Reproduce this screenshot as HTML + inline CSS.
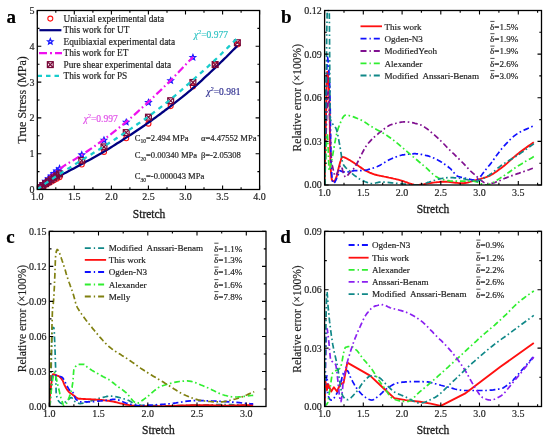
<!DOCTYPE html>
<html><head><meta charset="utf-8"><style>
html,body{margin:0;padding:0;background:#fff;}
svg{display:block;will-change:transform;}
text{font-family:"Liberation Serif", serif; white-space:pre;}
</style></head><body>
<svg width="550" height="440" viewBox="0 0 550 440">
<defs><clipPath id="clipa"><rect x="37.3" y="9.5" width="222.3" height="180.0"/></clipPath><clipPath id="clipb"><rect x="324.6" y="9.5" width="216.9" height="175.5"/></clipPath><clipPath id="clipc"><rect x="49.3" y="230.4" width="216.7" height="176.1"/></clipPath><clipPath id="clipd"><rect x="324.6" y="230.4" width="216.9" height="176.1"/></clipPath></defs>
<rect width="550" height="440" fill="#fff"/>
<g clip-path="url(#clipa)">
<circle cx="37.30" cy="189.50" r="2.5" fill="none" stroke="#ff1010" stroke-width="1.1"/>
<circle cx="40.08" cy="187.96" r="2.5" fill="none" stroke="#ff1010" stroke-width="1.1"/>
<circle cx="42.86" cy="186.41" r="2.5" fill="none" stroke="#ff1010" stroke-width="1.1"/>
<circle cx="45.64" cy="184.87" r="2.5" fill="none" stroke="#ff1010" stroke-width="1.1"/>
<circle cx="48.41" cy="183.32" r="2.5" fill="none" stroke="#ff1010" stroke-width="1.1"/>
<circle cx="51.19" cy="181.78" r="2.5" fill="none" stroke="#ff1010" stroke-width="1.1"/>
<circle cx="53.97" cy="180.24" r="2.5" fill="none" stroke="#ff1010" stroke-width="1.1"/>
<circle cx="56.75" cy="178.69" r="2.5" fill="none" stroke="#ff1010" stroke-width="1.1"/>
<circle cx="59.53" cy="177.15" r="2.5" fill="none" stroke="#ff1010" stroke-width="1.1"/>
<circle cx="81.76" cy="164.44" r="2.5" fill="none" stroke="#ff1010" stroke-width="1.1"/>
<circle cx="103.99" cy="151.91" r="2.5" fill="none" stroke="#ff1010" stroke-width="1.1"/>
<circle cx="126.22" cy="138.31" r="2.5" fill="none" stroke="#ff1010" stroke-width="1.1"/>
<circle cx="148.45" cy="123.63" r="2.5" fill="none" stroke="#ff1010" stroke-width="1.1"/>
<circle cx="170.68" cy="106.09" r="2.5" fill="none" stroke="#ff1010" stroke-width="1.1"/>
<circle cx="192.91" cy="86.40" r="2.5" fill="none" stroke="#ff1010" stroke-width="1.1"/>
<circle cx="215.14" cy="64.56" r="2.5" fill="none" stroke="#ff1010" stroke-width="1.1"/>
<circle cx="237.37" cy="44.51" r="2.5" fill="none" stroke="#ff1010" stroke-width="1.1"/>
<path d="M37.3,189.5 L38.0,189.0 L38.8,188.6 L39.5,188.1 L40.3,187.7 L41.0,187.2 L41.7,186.7 L42.5,186.3 L43.2,185.8 L44.0,185.4 L44.7,184.9 L45.5,184.5 L46.2,184.0 L46.9,183.5 L47.7,183.1 L48.4,182.6 L49.2,182.2 L49.9,181.7 L50.6,181.3 L51.4,180.8 L52.1,180.4 L52.9,179.9 L53.6,179.5 L54.3,179.1 L55.1,178.6 L55.8,178.2 L56.6,177.8 L57.3,177.3 L58.0,176.9 L58.8,176.5 L59.5,176.1 L61.8,174.8 L64.0,173.6 L66.2,172.4 L68.4,171.2 L70.6,170.0 L72.9,168.9 L75.1,167.7 L77.3,166.5 L79.5,165.3 L81.8,164.1 L84.0,162.9 L86.2,161.6 L88.4,160.4 L90.7,159.2 L92.9,157.9 L95.1,156.7 L97.3,155.4 L99.5,154.2 L101.8,152.9 L104.0,151.6 L106.2,150.2 L108.4,148.9 L110.7,147.5 L112.9,146.1 L115.1,144.7 L117.3,143.3 L119.6,141.9 L121.8,140.5 L124.0,139.0 L126.2,137.6 L128.4,136.1 L130.7,134.7 L132.9,133.2 L135.1,131.7 L137.3,130.2 L139.6,128.7 L141.8,127.2 L144.0,125.7 L146.2,124.1 L148.4,122.6 L150.7,121.0 L152.9,119.4 L155.1,117.8 L157.3,116.1 L159.6,114.5 L161.8,112.8 L164.0,111.2 L166.2,109.5 L168.5,107.8 L170.7,106.1 L172.9,104.4 L175.1,102.6 L177.3,100.9 L179.6,99.1 L181.8,97.4 L184.0,95.6 L186.2,93.8 L188.5,91.9 L190.7,90.1 L192.9,88.2 L195.1,86.3 L197.4,84.3 L199.6,82.3 L201.8,80.3 L204.0,78.2 L206.2,76.2 L208.5,74.1 L210.7,72.0 L212.9,69.9 L215.1,67.8 L217.4,65.7 L219.6,63.5 L221.8,61.3 L224.0,59.2 L226.3,57.0 L228.5,54.7 L230.7,52.5 L232.9,50.3 L235.1,48.1 L237.4,45.9" fill="none" stroke="#000080" stroke-width="2.3" stroke-linejoin="round" clip-path="url(#clipa)"/>
<polygon points="37.30,186.70 38.03,188.49 39.96,188.63 38.49,189.89 38.95,191.77 37.30,190.75 35.65,191.77 36.11,189.89 34.64,188.63 36.57,188.49" fill="none" stroke="#1a1aff" stroke-width="1.3"/>
<polygon points="40.08,183.91 40.81,185.69 42.74,185.84 41.27,187.09 41.72,188.97 40.08,187.96 38.43,188.97 38.89,187.09 37.42,185.84 39.34,185.69" fill="none" stroke="#1a1aff" stroke-width="1.3"/>
<polygon points="42.86,181.16 43.59,182.95 45.52,183.10 44.05,184.35 44.50,186.23 42.86,185.21 41.21,186.23 41.67,184.35 40.19,183.10 42.12,182.95" fill="none" stroke="#1a1aff" stroke-width="1.3"/>
<polygon points="45.64,178.47 46.37,180.26 48.30,180.40 46.83,181.66 47.28,183.53 45.64,182.52 43.99,183.53 44.45,181.66 42.97,180.40 44.90,180.26" fill="none" stroke="#1a1aff" stroke-width="1.3"/>
<polygon points="48.41,175.83 49.15,177.61 51.08,177.76 49.60,179.01 50.06,180.89 48.41,179.88 46.77,180.89 47.23,179.01 45.75,177.76 47.68,177.61" fill="none" stroke="#1a1aff" stroke-width="1.3"/>
<polygon points="51.19,173.23 51.93,175.02 53.86,175.17 52.38,176.42 52.84,178.30 51.19,177.28 49.55,178.30 50.00,176.42 48.53,175.17 50.46,175.02" fill="none" stroke="#1a1aff" stroke-width="1.3"/>
<polygon points="53.97,170.69 54.71,172.48 56.64,172.63 55.16,173.88 55.62,175.76 53.97,174.74 52.33,175.76 52.78,173.88 51.31,172.63 53.24,172.48" fill="none" stroke="#1a1aff" stroke-width="1.3"/>
<polygon points="56.75,168.20 57.49,169.99 59.41,170.13 57.94,171.38 58.40,173.26 56.75,172.25 55.11,173.26 55.56,171.38 54.09,170.13 56.02,169.99" fill="none" stroke="#1a1aff" stroke-width="1.3"/>
<polygon points="59.53,165.76 60.26,167.55 62.19,167.69 60.72,168.94 61.18,170.82 59.53,169.81 57.88,170.82 58.34,168.94 56.87,167.69 58.80,167.55" fill="none" stroke="#1a1aff" stroke-width="1.3"/>
<polygon points="81.76,151.97 82.49,153.76 84.42,153.91 82.95,155.16 83.41,157.04 81.76,156.02 80.11,157.04 80.57,155.16 79.10,153.91 81.03,153.76" fill="none" stroke="#1a1aff" stroke-width="1.3"/>
<polygon points="103.99,137.30 104.72,139.08 106.65,139.23 105.18,140.48 105.64,142.36 103.99,141.35 102.34,142.36 102.80,140.48 101.33,139.23 103.26,139.08" fill="none" stroke="#1a1aff" stroke-width="1.3"/>
<polygon points="126.22,119.40 126.95,121.18 128.88,121.33 127.41,122.58 127.87,124.46 126.22,123.45 124.57,124.46 125.03,122.58 123.56,121.33 125.49,121.18" fill="none" stroke="#1a1aff" stroke-width="1.3"/>
<polygon points="148.45,99.71 149.18,101.49 151.11,101.64 149.64,102.89 150.10,104.77 148.45,103.76 146.80,104.77 147.26,102.89 145.79,101.64 147.72,101.49" fill="none" stroke="#1a1aff" stroke-width="1.3"/>
<polygon points="170.68,77.87 171.41,79.66 173.34,79.80 171.87,81.05 172.33,82.93 170.68,81.92 169.03,82.93 169.49,81.05 168.02,79.80 169.95,79.66" fill="none" stroke="#1a1aff" stroke-width="1.3"/>
<polygon points="192.91,54.60 193.64,56.39 195.57,56.53 194.10,57.78 194.56,59.66 192.91,58.65 191.26,59.66 191.72,57.78 190.25,56.53 192.18,56.39" fill="none" stroke="#1a1aff" stroke-width="1.3"/>
<path d="M37.3,189.5 L38.0,188.7 L38.8,187.9 L39.5,187.2 L40.3,186.4 L41.0,185.6 L41.7,184.8 L42.5,184.1 L43.2,183.3 L44.0,182.5 L44.7,181.8 L45.5,181.1 L46.2,180.3 L46.9,179.6 L47.7,178.9 L48.4,178.2 L49.2,177.5 L49.9,176.8 L50.6,176.1 L51.4,175.5 L52.1,174.8 L52.9,174.2 L53.6,173.6 L54.3,172.9 L55.1,172.3 L55.8,171.7 L56.6,171.1 L57.3,170.6 L58.0,170.0 L58.8,169.5 L59.5,168.9 L61.8,167.4 L64.0,165.9 L66.2,164.5 L68.4,163.1 L70.6,161.8 L72.9,160.5 L75.1,159.1 L77.3,157.8 L79.5,156.4 L81.8,155.0 L84.0,153.5 L86.2,152.0 L88.4,150.5 L90.7,148.9 L92.9,147.4 L95.1,145.8 L97.3,144.2 L99.5,142.6 L101.8,141.0 L104.0,139.4 L106.2,137.7 L108.4,136.0 L110.7,134.3 L112.9,132.6 L115.1,130.9 L117.3,129.1 L119.6,127.3 L121.8,125.5 L124.0,123.7 L126.2,121.8 L128.4,119.9 L130.7,118.0 L132.9,116.1 L135.1,114.1 L137.3,112.1 L139.6,110.0 L141.8,108.0 L144.0,105.9 L146.2,103.9 L148.4,101.8 L150.7,99.7 L152.9,97.6 L155.1,95.5 L157.3,93.4 L159.6,91.2 L161.8,89.1 L164.0,86.9 L166.2,84.7 L168.5,82.5 L170.7,80.3 L172.9,78.1 L175.1,75.8 L177.3,73.5 L179.6,71.1 L181.8,68.8 L184.0,66.4 L186.2,64.1 L188.5,61.7 L190.7,59.4 L192.9,57.0" fill="none" stroke="#ee10ee" stroke-width="2.2" stroke-dasharray="7.7 3 1.6 3" stroke-linejoin="round" clip-path="url(#clipa)"/>
<g stroke="#7a0a3a" stroke-width="1.25" fill="none"><rect x="34.40" y="186.60" width="5.80" height="5.80"/><path d="M34.40,186.60L40.20,192.40M40.20,186.60L34.40,192.40"/></g>
<g stroke="#7a0a3a" stroke-width="1.25" fill="none"><rect x="37.18" y="184.65" width="5.80" height="5.80"/><path d="M37.18,184.65L42.98,190.45M42.98,184.65L37.18,190.45"/></g>
<g stroke="#7a0a3a" stroke-width="1.25" fill="none"><rect x="39.96" y="182.71" width="5.80" height="5.80"/><path d="M39.96,182.71L45.76,188.51M45.76,182.71L39.96,188.51"/></g>
<g stroke="#7a0a3a" stroke-width="1.25" fill="none"><rect x="42.74" y="180.76" width="5.80" height="5.80"/><path d="M42.74,180.76L48.54,186.56M48.54,180.76L42.74,186.56"/></g>
<g stroke="#7a0a3a" stroke-width="1.25" fill="none"><rect x="45.51" y="178.81" width="5.80" height="5.80"/><path d="M45.51,178.81L51.31,184.61M51.31,178.81L45.51,184.61"/></g>
<g stroke="#7a0a3a" stroke-width="1.25" fill="none"><rect x="48.29" y="176.87" width="5.80" height="5.80"/><path d="M48.29,176.87L54.09,182.67M54.09,176.87L48.29,182.67"/></g>
<g stroke="#7a0a3a" stroke-width="1.25" fill="none"><rect x="51.07" y="174.92" width="5.80" height="5.80"/><path d="M51.07,174.92L56.87,180.72M56.87,174.92L51.07,180.72"/></g>
<g stroke="#7a0a3a" stroke-width="1.25" fill="none"><rect x="53.85" y="172.97" width="5.80" height="5.80"/><path d="M53.85,172.97L59.65,178.77M59.65,172.97L53.85,178.77"/></g>
<g stroke="#7a0a3a" stroke-width="1.25" fill="none"><rect x="56.63" y="171.03" width="5.80" height="5.80"/><path d="M56.63,171.03L62.43,176.83M62.43,171.03L56.63,176.83"/></g>
<g stroke="#7a0a3a" stroke-width="1.25" fill="none"><rect x="78.86" y="157.60" width="5.80" height="5.80"/><path d="M78.86,157.60L84.66,163.40M84.66,157.60L78.86,163.40"/></g>
<g stroke="#7a0a3a" stroke-width="1.25" fill="none"><rect x="101.09" y="144.00" width="5.80" height="5.80"/><path d="M101.09,144.00L106.89,149.80M106.89,144.00L101.09,149.80"/></g>
<g stroke="#7a0a3a" stroke-width="1.25" fill="none"><rect x="123.32" y="129.68" width="5.80" height="5.80"/><path d="M123.32,129.68L129.12,135.48M129.12,129.68L123.32,135.48"/></g>
<g stroke="#7a0a3a" stroke-width="1.25" fill="none"><rect x="145.55" y="114.28" width="5.80" height="5.80"/><path d="M145.55,114.28L151.35,120.08M151.35,114.28L145.55,120.08"/></g>
<g stroke="#7a0a3a" stroke-width="1.25" fill="none"><rect x="167.78" y="97.82" width="5.80" height="5.80"/><path d="M167.78,97.82L173.58,103.62M173.58,97.82L167.78,103.62"/></g>
<g stroke="#7a0a3a" stroke-width="1.25" fill="none"><rect x="190.01" y="79.56" width="5.80" height="5.80"/><path d="M190.01,79.56L195.81,85.36M195.81,79.56L190.01,85.36"/></g>
<g stroke="#7a0a3a" stroke-width="1.25" fill="none"><rect x="212.24" y="61.66" width="5.80" height="5.80"/><path d="M212.24,61.66L218.04,67.46M218.04,61.66L212.24,67.46"/></g>
<g stroke="#7a0a3a" stroke-width="1.25" fill="none"><rect x="234.47" y="39.82" width="5.80" height="5.80"/><path d="M234.47,39.82L240.27,45.62M240.27,39.82L234.47,45.62"/></g>
<path d="M37.3,189.5 L38.0,188.9 L38.8,188.4 L39.5,187.8 L40.3,187.3 L41.0,186.7 L41.7,186.1 L42.5,185.6 L43.2,185.0 L44.0,184.5 L44.7,184.0 L45.5,183.4 L46.2,182.9 L46.9,182.4 L47.7,181.9 L48.4,181.4 L49.2,180.9 L49.9,180.4 L50.6,179.9 L51.4,179.4 L52.1,178.9 L52.9,178.4 L53.6,178.0 L54.3,177.5 L55.1,177.0 L55.8,176.5 L56.6,176.0 L57.3,175.5 L58.0,175.1 L58.8,174.6 L59.5,174.1 L61.8,172.7 L64.0,171.3 L66.2,169.9 L68.4,168.5 L70.6,167.1 L72.9,165.7 L75.1,164.3 L77.3,162.9 L79.5,161.5 L81.8,160.1 L84.0,158.8 L86.2,157.4 L88.4,156.0 L90.7,154.7 L92.9,153.3 L95.1,151.9 L97.3,150.5 L99.5,149.2 L101.8,147.8 L104.0,146.4 L106.2,144.9 L108.4,143.5 L110.7,142.1 L112.9,140.7 L115.1,139.2 L117.3,137.8 L119.6,136.3 L121.8,134.8 L124.0,133.4 L126.2,131.9 L128.4,130.4 L130.7,128.9 L132.9,127.4 L135.1,125.9 L137.3,124.3 L139.6,122.8 L141.8,121.2 L144.0,119.7 L146.2,118.1 L148.4,116.5 L150.7,114.8 L152.9,113.2 L155.1,111.5 L157.3,109.8 L159.6,108.1 L161.8,106.4 L164.0,104.6 L166.2,102.9 L168.5,101.1 L170.7,99.3 L172.9,97.4 L175.1,95.6 L177.3,93.7 L179.6,91.7 L181.8,89.8 L184.0,87.8 L186.2,85.9 L188.5,83.9 L190.7,81.9 L192.9,80.0 L195.1,78.0 L197.4,76.0 L199.6,74.0 L201.8,72.1 L204.0,70.1 L206.2,68.1 L208.5,66.1 L210.7,64.0 L212.9,62.0 L215.1,59.9 L217.4,57.8 L219.6,55.7 L221.8,53.5 L224.0,51.3 L226.3,49.1 L228.5,46.9 L230.7,44.7 L232.9,42.5 L235.1,40.3 L237.4,38.1" fill="none" stroke="#18cccc" stroke-width="2.3" stroke-dasharray="4.6 4.5" stroke-linejoin="round" clip-path="url(#clipa)"/>
</g>
<circle cx="50.30" cy="18.60" r="2.5" fill="none" stroke="#ff1010" stroke-width="1.1"/>
<path d="M39.4,30.2H61.4" stroke="#000080" stroke-width="2.2"/>
<polygon points="50.30,38.80 51.03,40.59 52.96,40.73 51.49,41.99 51.95,43.87 50.30,42.85 48.65,43.87 49.11,41.99 47.64,40.73 49.57,40.59" fill="none" stroke="#1a1aff" stroke-width="1.3"/>
<path d="M39,53.2H62" stroke="#ee10ee" stroke-width="2.2" stroke-dasharray="8 3 2 3"/>
<g stroke="#7a0a3a" stroke-width="1.25" fill="none"><rect x="47.40" y="61.70" width="5.80" height="5.80"/><path d="M47.40,61.70L53.20,67.50M53.20,61.70L47.40,67.50"/></g>
<path d="M37.5,75.8H62" stroke="#18cccc" stroke-width="2.2" stroke-dasharray="4.5 4"/>
<text x="63.5" y="21.8" font-size="9.3" text-anchor="start" fill="#1e1e1e" stroke="#1e1e1e" stroke-width="0.18">Uniaxial experimental data</text>
<text x="63.5" y="33.4" font-size="9.3" text-anchor="start" fill="#1e1e1e" stroke="#1e1e1e" stroke-width="0.18">This work for UT</text>
<text x="63.5" y="44.8" font-size="9.3" text-anchor="start" fill="#1e1e1e" stroke="#1e1e1e" stroke-width="0.18">Equibiaxial experimental data</text>
<text x="63.5" y="56.4" font-size="9.3" text-anchor="start" fill="#1e1e1e" stroke="#1e1e1e" stroke-width="0.18">This work for ET</text>
<text x="63.5" y="67.8" font-size="9.3" text-anchor="start" fill="#1e1e1e" stroke="#1e1e1e" stroke-width="0.18">Pure shear experimental data</text>
<text x="63.5" y="79.0" font-size="9.3" text-anchor="start" fill="#1e1e1e" stroke="#1e1e1e" stroke-width="0.18">This work for PS</text>
<text x="194.0" y="38.2" font-size="9.5" fill="#30c4c4" stroke="#30c4c4" stroke-width="0.18"><tspan font-style="italic">χ</tspan><tspan font-size="6" dy="-4.3">2</tspan><tspan dy="4.3">=0.977</tspan></text>
<text x="206.5" y="95.4" font-size="9.5" fill="#303090" stroke="#303090" stroke-width="0.18"><tspan font-style="italic">χ</tspan><tspan font-size="6" dy="-4.3">2</tspan><tspan dy="4.3">=0.981</tspan></text>
<text x="83.8" y="122.2" font-size="9.5" fill="#e050e8" stroke="#e050e8" stroke-width="0.18"><tspan font-style="italic">χ</tspan><tspan font-size="6" dy="-4.3">2</tspan><tspan dy="4.3">=0.997</tspan></text>
<text x="134.7" y="140.6" font-size="8.6" fill="#1e1e1e" stroke="#1e1e1e" stroke-width="0.18">C<tspan font-size="5.6" dy="2.7">10</tspan><tspan dy="-2.7">=2.494 MPa</tspan></text>
<text x="200.9" y="140.6" font-size="8.6" text-anchor="start" fill="#1e1e1e" stroke="#1e1e1e" stroke-width="0.18">α=4.47552 MPa</text>
<text x="134.7" y="158.4" font-size="8.6" fill="#1e1e1e" stroke="#1e1e1e" stroke-width="0.18">C<tspan font-size="5.6" dy="2.7">20</tspan><tspan dy="-2.7">=0.00340 MPa</tspan></text>
<text x="200.9" y="158.4" font-size="8.6" text-anchor="start" fill="#1e1e1e" stroke="#1e1e1e" stroke-width="0.18">β=-2.05308</text>
<text x="134.7" y="179.1" font-size="8.6" fill="#1e1e1e" stroke="#1e1e1e" stroke-width="0.18">C<tspan font-size="5.6" dy="2.7">30</tspan><tspan dy="-2.7">=-0.000043 MPa</tspan></text>
<text x="149.1" y="217.9" font-size="11.5" text-anchor="middle" fill="#1e1e1e" stroke="#1e1e1e" stroke-width="0.3">Stretch</text>
<text transform="translate(26.4,100) rotate(-90)" font-size="12" text-anchor="middle" fill="#1e1e1e" stroke="#1e1e1e" stroke-width="0.18">True Stress (MPa)</text>
<text x="6.5" y="22.6" font-size="19" font-weight="bold" fill="#000" stroke="#000" stroke-width="0.18">a</text>
<path d="M324.6,179.2 L324.8,172.4 L324.9,165.6 L325.1,158.7 L325.2,151.7 L325.4,144.8 L325.5,138.0 L325.7,131.3 L325.8,124.7 L326.0,118.4 L326.1,112.3 L326.3,107.5 L326.4,102.3 L326.5,96.9 L326.6,91.5 L326.7,86.3 L326.8,81.6 L327.0,77.6 L327.1,74.4 L327.2,72.3 L327.3,71.6 L327.5,71.9 L327.7,72.7 L327.9,74.1 L328.1,76.0 L328.3,78.3 L328.5,81.0 L328.7,84.1 L328.9,87.4 L329.1,91.0 L329.2,94.8 L329.4,99.0 L329.5,105.3 L329.7,113.3 L329.8,122.4 L329.9,132.0 L330.1,141.5 L330.2,150.4 L330.4,158.1 L330.5,164.0 L330.6,167.6 L330.8,169.6 L330.9,171.4 L331.0,173.2 L331.2,174.7 L331.3,176.1 L331.4,177.3 L331.6,178.3 L331.7,179.0 L331.8,179.6 L332.0,179.9 L332.2,180.2 L332.3,180.4 L332.5,180.6 L332.7,180.8 L332.9,181.0 L333.1,181.1 L333.3,181.2 L333.5,181.3 L333.7,181.3 L333.9,181.4 L334.1,181.3 L334.4,181.2 L334.6,180.9 L334.8,180.6 L335.1,180.2 L335.3,179.7 L335.5,179.3 L335.8,178.8 L336.0,178.2 L336.2,177.7 L336.5,176.9 L336.8,175.9 L337.1,174.7 L337.5,173.4 L337.8,171.9 L338.1,170.5 L338.4,169.1 L338.7,167.7 L339.0,166.5 L339.3,165.4 L339.6,164.3 L339.9,163.2 L340.2,162.1 L340.6,161.0 L340.9,159.9 L341.2,158.9 L341.5,158.1 L341.8,157.5 L342.1,157.1 L342.4,156.9 L343.0,157.0 L343.7,157.1 L344.3,157.3 L344.9,157.6 L345.5,157.9 L346.1,158.2 L346.8,158.5 L347.4,158.9 L348.0,159.2 L348.6,159.6 L349.3,159.9 L350.0,160.3 L350.7,160.7 L351.4,161.2 L352.1,161.6 L352.8,162.1 L353.5,162.5 L354.2,163.0 L354.9,163.5 L355.6,163.9 L356.6,164.6 L357.6,165.3 L358.6,166.0 L359.6,166.7 L360.6,167.4 L361.6,168.1 L362.6,168.8 L363.6,169.5 L364.6,170.1 L365.7,170.6 L366.7,171.1 L367.7,171.6 L368.7,172.1 L369.7,172.6 L370.7,173.0 L371.7,173.4 L372.7,173.8 L373.7,174.2 L374.7,174.5 L375.7,174.8 L376.6,175.0 L377.4,175.2 L378.3,175.4 L379.1,175.6 L380.0,175.8 L380.8,175.9 L381.7,176.1 L382.5,176.2 L383.4,176.4 L384.2,176.6 L385.8,176.9 L387.3,177.2 L388.9,177.6 L390.4,177.9 L392.0,178.2 L393.5,178.6 L395.1,178.9 L396.6,179.3 L398.2,179.7 L399.7,180.1 L401.5,180.6 L403.3,181.1 L405.1,181.8 L406.9,182.4 L408.6,183.1 L410.4,183.7 L412.2,184.2 L414.0,184.6 L415.8,184.9 L417.6,185.0 L418.9,185.0 L420.2,184.8 L421.5,184.7 L422.8,184.4 L424.1,184.2 L425.5,183.9 L426.8,183.6 L428.1,183.4 L429.4,183.1 L430.7,183.0 L432.1,182.8 L433.5,182.6 L434.9,182.4 L436.3,182.3 L437.7,182.1 L439.1,182.0 L440.5,181.8 L441.9,181.7 L443.3,181.7 L444.7,181.7 L446.5,181.7 L448.2,181.8 L450.0,182.0 L451.8,182.2 L453.6,182.5 L455.4,182.7 L457.1,182.9 L458.9,183.1 L460.7,183.2 L462.5,183.3 L463.8,183.2 L465.1,183.0 L466.4,182.8 L467.8,182.5 L469.1,182.1 L470.4,181.7 L471.7,181.3 L473.0,180.8 L474.3,180.4 L475.7,180.1 L476.9,179.7 L478.1,179.4 L479.4,179.1 L480.6,178.8 L481.9,178.4 L483.1,178.1 L484.3,177.7 L485.6,177.3 L486.8,176.9 L488.0,176.4 L489.5,175.8 L491.0,175.0 L492.5,174.2 L493.9,173.2 L495.4,172.3 L496.9,171.2 L498.4,170.1 L499.8,169.0 L501.3,167.9 L502.8,166.8 L504.2,165.7 L505.6,164.6 L507.0,163.4 L508.3,162.1 L509.7,160.9 L511.1,159.6 L512.5,158.3 L513.9,157.1 L515.3,155.9 L516.7,154.8 L518.4,153.4 L520.1,152.1 L521.8,150.8 L523.5,149.6 L525.2,148.4 L526.9,147.1 L528.6,145.9 L530.3,144.7 L532.0,143.5 L533.8,142.2" fill="none" stroke="#ff1010" stroke-width="1.9" stroke-linejoin="round" clip-path="url(#clipb)"/>
<path d="M324.6,185.0 L324.7,179.2 L324.8,173.3 L324.9,167.4 L325.1,161.5 L325.2,155.6 L325.3,149.7 L325.4,143.9 L325.5,138.1 L325.6,132.4 L325.8,126.8 L325.9,118.9 L326.1,110.1 L326.2,100.9 L326.4,91.7 L326.5,82.7 L326.7,74.5 L326.8,67.5 L327.0,61.9 L327.2,58.3 L327.3,57.0 L327.5,57.4 L327.8,58.3 L328.0,59.9 L328.2,61.9 L328.5,64.5 L328.7,67.5 L328.9,71.0 L329.2,74.7 L329.4,78.8 L329.6,83.2 L329.8,87.6 L329.9,94.2 L330.1,102.7 L330.3,112.3 L330.4,122.5 L330.6,132.8 L330.7,142.6 L330.9,151.3 L331.0,158.4 L331.2,163.2 L331.3,165.8 L331.4,168.2 L331.5,170.5 L331.6,172.7 L331.8,174.6 L331.9,176.3 L332.0,177.8 L332.1,179.1 L332.2,180.0 L332.3,180.6 L332.5,181.1 L332.6,181.5 L332.7,181.9 L332.8,182.3 L332.9,182.6 L333.0,182.9 L333.2,183.1 L333.3,183.3 L333.4,183.4 L333.5,183.4 L333.9,183.3 L334.4,182.9 L334.8,182.3 L335.2,181.5 L335.6,180.6 L336.1,179.6 L336.5,178.6 L336.9,177.6 L337.3,176.6 L337.8,175.7 L338.0,175.2 L338.2,174.6 L338.5,174.0 L338.7,173.3 L338.9,172.6 L339.2,172.0 L339.4,171.5 L339.6,171.1 L339.9,170.8 L340.1,170.7 L340.4,170.8 L340.7,170.9 L341.0,171.0 L341.3,171.2 L341.6,171.3 L342.0,171.5 L342.3,171.7 L342.6,171.8 L342.9,171.9 L343.2,171.9 L343.7,171.9 L344.1,171.9 L344.6,171.9 L345.1,171.9 L345.5,171.9 L346.0,171.9 L346.4,171.9 L346.9,171.9 L347.4,171.9 L347.8,171.9 L348.5,171.9 L349.1,171.8 L349.7,171.7 L350.3,171.5 L350.9,171.4 L351.6,171.2 L352.2,171.0 L352.8,170.9 L353.4,170.8 L354.0,170.7 L354.8,170.7 L355.6,170.7 L356.4,170.7 L357.1,170.7 L357.9,170.7 L358.7,170.7 L359.5,170.7 L360.2,170.6 L361.0,170.6 L361.8,170.6 L363.2,170.5 L364.6,170.3 L366.0,170.1 L367.4,169.8 L368.8,169.4 L370.1,169.0 L371.5,168.5 L372.9,168.1 L374.3,167.6 L375.7,167.1 L377.4,166.5 L379.0,165.7 L380.6,164.9 L382.2,163.9 L383.9,162.9 L385.5,162.0 L387.1,161.0 L388.7,160.1 L390.4,159.2 L392.0,158.5 L393.2,158.1 L394.3,157.6 L395.5,157.1 L396.6,156.7 L397.8,156.3 L399.0,155.9 L400.1,155.5 L401.3,155.2 L402.5,154.9 L403.6,154.8 L404.8,154.6 L405.9,154.4 L407.1,154.3 L408.3,154.2 L409.4,154.0 L410.6,153.9 L411.7,153.9 L412.9,153.8 L414.1,153.7 L415.2,153.7 L416.4,153.8 L417.6,153.8 L418.7,154.0 L419.9,154.1 L421.0,154.3 L422.2,154.6 L423.4,154.8 L424.5,155.1 L425.7,155.4 L426.9,155.6 L428.0,155.9 L429.2,156.3 L430.3,156.7 L431.5,157.1 L432.7,157.6 L433.8,158.1 L435.0,158.7 L436.1,159.2 L437.3,159.8 L438.5,160.4 L439.6,161.0 L440.8,161.7 L442.0,162.4 L443.1,163.2 L444.3,164.0 L445.4,164.8 L446.6,165.7 L447.8,166.5 L448.9,167.5 L450.1,168.4 L450.9,169.1 L451.6,170.0 L452.4,170.9 L453.2,171.8 L454.0,172.8 L454.7,173.7 L455.5,174.5 L456.3,175.3 L457.1,175.9 L457.8,176.3 L458.6,176.6 L459.4,176.8 L460.2,177.0 L460.9,177.2 L461.7,177.4 L462.5,177.5 L463.3,177.7 L464.0,177.8 L464.8,178.0 L465.6,178.2 L466.5,178.4 L467.4,178.6 L468.4,178.9 L469.3,179.1 L470.2,179.4 L471.2,179.6 L472.1,179.8 L473.0,179.9 L474.0,180.0 L474.9,180.1 L476.2,179.8 L477.5,179.2 L478.8,178.1 L480.1,176.8 L481.5,175.3 L482.8,173.6 L484.1,171.9 L485.4,170.1 L486.7,168.4 L488.0,166.8 L489.5,165.1 L491.0,163.2 L492.5,161.2 L493.9,159.2 L495.4,157.1 L496.9,155.0 L498.4,153.0 L499.8,151.0 L501.3,149.2 L502.8,147.5 L504.2,145.9 L505.6,144.4 L507.0,142.9 L508.3,141.4 L509.7,140.0 L511.1,138.6 L512.5,137.4 L513.9,136.2 L515.3,135.1 L516.7,134.1 L518.4,133.0 L520.1,132.1 L521.8,131.2 L523.5,130.4 L525.2,129.6 L526.9,128.9 L528.6,128.1 L530.3,127.4 L532.0,126.6 L533.8,125.8" fill="none" stroke="#1010ff" stroke-width="1.7" stroke-dasharray="5.8 2.6 1.6 2.8" stroke-linejoin="round" clip-path="url(#clipb)"/>
<path d="M324.6,185.0 L324.8,179.8 L324.9,174.5 L325.1,169.1 L325.2,163.7 L325.4,158.3 L325.5,153.0 L325.7,147.9 L325.8,143.0 L326.0,138.4 L326.1,134.1 L326.3,128.8 L326.5,123.2 L326.7,117.5 L326.9,111.9 L327.1,106.6 L327.3,101.9 L327.5,97.8 L327.7,94.7 L327.9,92.7 L328.1,91.9 L328.3,92.5 L328.5,94.2 L328.7,96.9 L328.9,100.3 L329.1,104.2 L329.2,108.6 L329.4,113.2 L329.6,117.9 L329.8,122.5 L330.0,126.8 L330.1,129.5 L330.3,132.6 L330.4,135.8 L330.5,139.2 L330.6,142.7 L330.7,146.0 L330.8,149.1 L331.0,151.8 L331.1,154.2 L331.2,155.9 L331.3,157.3 L331.4,158.6 L331.5,159.7 L331.6,160.8 L331.8,161.8 L331.9,162.7 L332.0,163.5 L332.1,164.2 L332.2,164.9 L332.3,165.5 L332.7,167.1 L333.0,168.6 L333.3,170.0 L333.6,171.3 L333.9,172.6 L334.2,173.6 L334.5,174.5 L334.8,175.1 L335.1,175.5 L335.4,175.7 L336.0,175.4 L336.5,174.6 L337.1,173.5 L337.6,172.1 L338.2,170.6 L338.7,169.1 L339.2,167.7 L339.8,166.6 L340.3,165.8 L340.9,165.5 L341.1,165.6 L341.3,166.0 L341.6,166.5 L341.8,167.2 L342.0,168.0 L342.3,168.8 L342.5,169.7 L342.7,170.5 L343.0,171.3 L343.2,171.9 L343.4,172.5 L343.7,173.2 L343.9,173.8 L344.1,174.5 L344.4,175.2 L344.6,175.8 L344.8,176.3 L345.1,176.7 L345.3,176.9 L345.5,177.0 L345.9,176.9 L346.3,176.7 L346.7,176.4 L347.1,176.1 L347.5,175.6 L347.8,175.1 L348.2,174.6 L348.6,174.1 L349.0,173.7 L349.4,173.2 L349.9,172.7 L350.3,172.3 L350.8,171.8 L351.2,171.3 L351.7,170.8 L352.2,170.3 L352.6,169.8 L353.1,169.3 L353.6,168.7 L354.0,168.1 L355.4,166.2 L356.7,164.0 L358.0,161.5 L359.3,158.9 L360.6,156.3 L361.9,153.6 L363.3,151.0 L364.6,148.6 L365.9,146.4 L367.2,144.6 L368.5,143.0 L369.8,141.6 L371.1,140.2 L372.3,138.9 L373.6,137.6 L374.9,136.5 L376.2,135.3 L377.5,134.3 L378.8,133.2 L380.1,132.2 L381.3,131.3 L382.5,130.3 L383.6,129.4 L384.8,128.4 L386.0,127.6 L387.2,126.7 L388.4,126.0 L389.6,125.3 L390.8,124.8 L392.0,124.4 L393.3,124.0 L394.6,123.6 L395.9,123.3 L397.3,122.9 L398.6,122.6 L399.9,122.4 L401.2,122.2 L402.5,122.0 L403.8,121.9 L405.2,121.9 L406.6,121.9 L408.0,122.0 L409.3,122.2 L410.7,122.4 L412.1,122.6 L413.5,122.9 L414.9,123.3 L416.3,123.6 L417.7,124.0 L419.1,124.4 L420.7,124.9 L422.2,125.6 L423.8,126.5 L425.3,127.6 L426.9,128.7 L428.4,129.9 L430.0,131.2 L431.5,132.5 L433.1,133.8 L434.6,135.1 L436.0,136.3 L437.4,137.6 L438.8,138.9 L440.2,140.3 L441.6,141.7 L443.0,143.1 L444.4,144.5 L445.8,146.0 L447.1,147.4 L448.5,148.8 L449.9,150.2 L451.3,151.5 L452.7,152.9 L454.1,154.2 L455.5,155.6 L456.9,157.0 L458.3,158.3 L459.7,159.7 L461.1,161.1 L462.5,162.5 L463.6,163.6 L464.8,164.9 L466.0,166.1 L467.1,167.4 L468.3,168.6 L469.5,169.8 L470.6,171.0 L471.8,172.2 L472.9,173.2 L474.1,174.2 L475.5,175.4 L476.9,176.7 L478.3,178.0 L479.7,179.2 L481.1,180.4 L482.5,181.5 L483.9,182.4 L485.3,183.1 L486.7,183.5 L488.0,183.7 L490.2,183.6 L492.4,183.2 L494.6,182.6 L496.7,181.8 L498.9,181.0 L501.1,180.1 L503.2,179.1 L505.4,178.1 L507.6,177.2 L509.7,176.4 L512.1,175.6 L514.5,174.8 L516.9,173.9 L519.3,173.1 L521.7,172.2 L524.1,171.4 L526.5,170.5 L529.0,169.7 L531.4,168.8 L533.8,168.0" fill="none" stroke="#801090" stroke-width="1.7" stroke-dasharray="5.8 2.6 1.6 2.8" stroke-linejoin="round" clip-path="url(#clipb)"/>
<path d="M324.6,185.0 L324.9,179.5 L325.1,173.2 L325.4,166.5 L325.7,159.8 L326.0,153.2 L326.2,147.1 L326.5,141.9 L326.8,137.8 L327.0,135.1 L327.3,134.1 L327.5,135.1 L327.7,137.9 L327.9,142.0 L328.1,146.9 L328.3,152.3 L328.5,157.7 L328.7,162.6 L328.9,166.7 L329.1,169.4 L329.2,170.5 L329.4,170.4 L329.6,170.1 L329.7,169.6 L329.9,169.0 L330.0,168.4 L330.2,167.6 L330.3,166.8 L330.5,166.1 L330.6,165.3 L330.8,164.6 L331.5,161.5 L332.2,157.9 L332.9,154.0 L333.6,150.0 L334.3,146.0 L335.0,142.0 L335.7,138.3 L336.4,134.9 L337.1,132.0 L337.8,129.7 L338.5,127.6 L339.3,125.5 L340.1,123.5 L340.9,121.6 L341.6,119.8 L342.4,118.3 L343.2,117.0 L344.0,116.0 L344.7,115.4 L345.5,115.2 L347.1,115.3 L348.8,115.5 L350.4,115.9 L352.0,116.4 L353.6,116.9 L355.3,117.6 L356.9,118.3 L358.5,119.0 L360.2,119.7 L361.8,120.4 L362.8,120.9 L363.8,121.5 L364.8,122.1 L365.8,122.8 L366.8,123.4 L367.8,124.2 L368.8,124.9 L369.8,125.6 L370.8,126.2 L371.9,126.8 L372.8,127.4 L373.7,127.9 L374.6,128.4 L375.6,128.9 L376.5,129.4 L377.4,129.9 L378.4,130.4 L379.3,130.9 L380.2,131.4 L381.1,131.9 L382.2,132.6 L383.3,133.2 L384.4,133.9 L385.5,134.6 L386.6,135.3 L387.7,136.0 L388.7,136.8 L389.8,137.5 L390.9,138.3 L392.0,139.0 L393.2,139.9 L394.3,140.8 L395.5,141.8 L396.6,142.7 L397.8,143.7 L399.0,144.7 L400.1,145.7 L401.3,146.7 L402.5,147.7 L403.6,148.6 L404.8,149.6 L405.9,150.6 L407.1,151.6 L408.3,152.6 L409.4,153.6 L410.6,154.6 L411.7,155.6 L412.9,156.6 L414.1,157.5 L415.2,158.5 L416.4,159.5 L417.6,160.5 L418.7,161.5 L419.9,162.5 L421.0,163.5 L422.2,164.5 L423.4,165.4 L424.5,166.4 L425.7,167.4 L426.9,168.4 L427.9,169.3 L428.9,170.3 L429.9,171.3 L430.9,172.2 L431.9,173.2 L432.9,174.2 L433.9,175.0 L434.9,175.9 L435.9,176.6 L436.9,177.1 L437.7,177.5 L438.5,177.9 L439.2,178.3 L440.0,178.6 L440.8,178.9 L441.6,179.2 L442.3,179.5 L443.1,179.7 L443.9,179.9 L444.7,180.1 L445.7,180.2 L446.7,180.4 L447.7,180.6 L448.7,180.7 L449.7,180.9 L450.7,181.0 L451.7,181.1 L452.7,181.2 L453.7,181.2 L454.7,181.2 L456.6,181.2 L458.5,181.2 L460.3,181.2 L462.2,181.2 L464.0,181.2 L465.9,181.2 L467.8,181.2 L469.6,181.2 L471.5,181.2 L473.3,181.2 L474.6,181.3 L475.8,181.6 L477.0,182.0 L478.3,182.5 L479.5,183.0 L480.8,183.6 L482.0,184.1 L483.2,184.5 L484.5,184.8 L485.7,184.9 L487.4,184.7 L489.1,184.3 L490.8,183.7 L492.5,182.8 L494.2,181.9 L496.0,180.8 L497.7,179.7 L499.4,178.6 L501.1,177.5 L502.8,176.4 L504.2,175.6 L505.6,174.7 L507.0,173.7 L508.3,172.7 L509.7,171.7 L511.1,170.7 L512.5,169.7 L513.9,168.7 L515.3,167.7 L516.7,166.8 L518.4,165.7 L520.1,164.7 L521.8,163.7 L523.5,162.6 L525.2,161.6 L526.9,160.6 L528.6,159.7 L530.3,158.7 L532.0,157.7 L533.8,156.6" fill="none" stroke="#30ee30" stroke-width="1.7" stroke-dasharray="5.8 2.6 1.6 2.8" stroke-linejoin="round" clip-path="url(#clipb)"/>
<path d="M324.6,185.0 L324.8,174.8 L324.9,164.6 L325.1,154.3 L325.2,144.0 L325.4,133.8 L325.5,123.6 L325.7,113.4 L325.8,103.2 L326.0,93.2 L326.1,83.2 L326.3,75.1 L326.4,66.1 L326.5,56.6 L326.6,46.9 L326.7,37.6 L326.8,29.0 L327.0,21.5 L327.1,15.7 L327.2,11.9 L327.3,10.5 L327.5,10.5 L327.7,10.5 L327.9,10.5 L328.1,10.5 L328.3,10.5 L328.5,10.5 L328.7,10.5 L328.9,10.5 L329.1,10.5 L329.2,10.5 L329.3,13.5 L329.4,21.5 L329.5,33.4 L329.6,47.8 L329.7,63.6 L329.8,79.4 L329.9,94.0 L330.0,106.2 L330.1,114.6 L330.2,118.1 L330.3,118.9 L330.5,119.5 L330.6,120.1 L330.7,120.5 L330.9,120.8 L331.0,121.1 L331.2,121.4 L331.3,121.7 L331.4,121.9 L331.6,122.2 L332.0,123.1 L332.5,123.8 L333.0,124.4 L333.4,125.0 L333.9,125.5 L334.4,126.0 L334.8,126.6 L335.3,127.3 L335.8,128.0 L336.2,129.0 L336.5,129.8 L336.8,130.9 L337.1,132.1 L337.5,133.4 L337.8,134.9 L338.1,136.5 L338.4,138.1 L338.7,139.7 L339.0,141.3 L339.3,142.8 L339.7,144.9 L340.1,147.3 L340.5,149.8 L340.9,152.4 L341.3,155.0 L341.6,157.5 L342.0,159.7 L342.4,161.7 L342.8,163.2 L343.2,164.2 L343.8,165.3 L344.4,166.2 L345.1,166.9 L345.7,167.6 L346.3,168.2 L346.9,168.7 L347.5,169.2 L348.1,169.7 L348.8,170.2 L349.4,170.7 L349.9,171.3 L350.5,171.8 L351.0,172.3 L351.6,172.9 L352.1,173.4 L352.6,173.9 L353.2,174.4 L353.7,174.8 L354.3,175.3 L354.8,175.7 L355.7,176.3 L356.5,176.9 L357.4,177.5 L358.2,178.1 L359.1,178.7 L359.9,179.2 L360.8,179.7 L361.6,180.2 L362.5,180.6 L363.3,180.9 L364.3,181.3 L365.2,181.7 L366.1,182.0 L367.1,182.4 L368.0,182.7 L368.9,183.0 L369.8,183.2 L370.8,183.4 L371.7,183.5 L372.6,183.5 L373.4,183.5 L374.2,183.4 L375.0,183.2 L375.7,183.0 L376.5,182.8 L377.3,182.6 L378.1,182.4 L378.8,182.2 L379.6,182.1 L380.4,182.1 L382.7,182.1 L385.0,182.2 L387.3,182.4 L389.7,182.6 L392.0,182.8 L394.3,183.1 L396.6,183.3 L399.0,183.6 L401.3,183.8 L403.6,184.0 L405.0,184.1 L406.4,184.2 L407.8,184.4 L409.2,184.5 L410.6,184.6 L412.0,184.7 L413.4,184.8 L414.8,184.9 L416.2,185.0 L417.6,185.0 L418.7,184.9 L419.9,184.8 L421.0,184.6 L422.2,184.3 L423.4,184.0 L424.5,183.6 L425.7,183.2 L426.9,182.8 L428.0,182.4 L429.2,182.1 L430.1,181.8 L431.0,181.5 L432.0,181.2 L432.9,180.9 L433.8,180.5 L434.8,180.2 L435.7,179.9 L436.6,179.6 L437.5,179.4 L438.5,179.2 L439.6,179.0 L440.6,178.7 L441.7,178.5 L442.8,178.3 L443.9,178.1 L445.0,177.9 L446.1,177.8 L447.1,177.7 L448.2,177.6 L449.3,177.6 L450.6,177.6 L451.8,177.6 L453.0,177.7 L454.3,177.8 L455.5,177.9 L456.8,178.0 L458.0,178.1 L459.2,178.2 L460.5,178.3 L461.7,178.5 L463.1,178.6 L464.5,178.9 L465.9,179.3 L467.3,179.6 L468.7,180.0 L470.1,180.4 L471.5,180.7 L472.9,181.0 L474.3,181.2 L475.7,181.2 L476.8,181.1 L478.0,180.9 L479.1,180.5 L480.3,180.1 L481.5,179.5 L482.6,178.9 L483.8,178.3 L485.0,177.6 L486.1,176.9 L487.3,176.3 L488.8,175.4 L490.4,174.3 L491.9,173.1 L493.5,171.9 L495.0,170.6 L496.6,169.3 L498.1,167.9 L499.7,166.7 L501.2,165.5 L502.8,164.4 L504.2,163.4 L505.6,162.6 L507.0,161.7 L508.3,160.9 L509.7,160.1 L511.1,159.3 L512.5,158.5 L513.9,157.7 L515.3,156.8 L516.7,155.9 L518.4,154.8 L520.1,153.6 L521.8,152.4 L523.5,151.2 L525.2,150.0 L526.9,148.8 L528.6,147.5 L530.3,146.3 L532.0,145.1 L533.8,143.8" fill="none" stroke="#108888" stroke-width="1.7" stroke-dasharray="5.8 2.6 1.6 2.8" stroke-linejoin="round" clip-path="url(#clipb)"/>
<path d="M360.5,26.3H382.0" stroke="#ff1010" stroke-width="1.8"/>
<text x="384.5" y="29.5" font-size="9.1" text-anchor="start" fill="#1e1e1e" stroke="#1e1e1e" stroke-width="0.18">This work</text>
<text x="490.0" y="29.7" font-size="9.1" fill="#1e1e1e" stroke="#1e1e1e" stroke-width="0.18">δ=1.5%</text><path d="M490.3,21.4h4.2" stroke="#1e1e1e" stroke-width="0.8"/>
<path d="M360.5,38.6H382.0" stroke="#1010ff" stroke-width="1.8" stroke-dasharray="6 3 1.3 3"/>
<text x="384.5" y="41.8" font-size="9.1" text-anchor="start" fill="#1e1e1e" stroke="#1e1e1e" stroke-width="0.18">Ogden-N3</text>
<text x="490.0" y="42.0" font-size="9.1" fill="#1e1e1e" stroke="#1e1e1e" stroke-width="0.18">δ=1.9%</text><path d="M490.3,33.7h4.2" stroke="#1e1e1e" stroke-width="0.8"/>
<path d="M360.5,51.0H382.0" stroke="#801090" stroke-width="1.8" stroke-dasharray="6 3 1.3 3"/>
<text x="384.5" y="54.2" font-size="9.1" text-anchor="start" fill="#1e1e1e" stroke="#1e1e1e" stroke-width="0.18">ModifiedYeoh</text>
<text x="490.0" y="54.4" font-size="9.1" fill="#1e1e1e" stroke="#1e1e1e" stroke-width="0.18">δ=1.9%</text><path d="M490.3,46.1h4.2" stroke="#1e1e1e" stroke-width="0.8"/>
<path d="M360.5,63.3H382.0" stroke="#30ee30" stroke-width="1.8" stroke-dasharray="6 3 1.3 3"/>
<text x="384.5" y="66.5" font-size="9.1" text-anchor="start" fill="#1e1e1e" stroke="#1e1e1e" stroke-width="0.18">Alexander</text>
<text x="490.0" y="66.7" font-size="9.1" fill="#1e1e1e" stroke="#1e1e1e" stroke-width="0.18">δ=2.6%</text><path d="M490.3,58.4h4.2" stroke="#1e1e1e" stroke-width="0.8"/>
<path d="M360.5,75.5H382.0" stroke="#108888" stroke-width="1.8" stroke-dasharray="6 3 1.3 3"/>
<text x="384.5" y="78.7" font-size="9.1" text-anchor="start" fill="#1e1e1e" stroke="#1e1e1e" stroke-width="0.18">Modified  Anssari-Benam</text>
<text x="490.0" y="78.9" font-size="9.1" fill="#1e1e1e" stroke="#1e1e1e" stroke-width="0.18">δ=3.0%</text><path d="M490.3,70.6h4.2" stroke="#1e1e1e" stroke-width="0.8"/>
<text x="433.0" y="212.8" font-size="11.5" text-anchor="middle" fill="#1e1e1e" stroke="#1e1e1e" stroke-width="0.3">Stretch</text>
<text transform="translate(301.4,97.7) rotate(-90)" font-size="11.5" text-anchor="middle" fill="#1e1e1e" stroke="#1e1e1e" stroke-width="0.18">Relative error (×100%)</text>
<text x="281" y="22.7" font-size="19" font-weight="bold" fill="#000" stroke="#000" stroke-width="0.18">b</text>
<path d="M49.3,406.5 L49.4,406.2 L49.5,405.9 L49.6,405.6 L49.7,405.3 L49.8,405.0 L49.9,404.7 L50.0,404.4 L50.1,404.0 L50.2,403.5 L50.3,403.0 L50.5,399.9 L50.7,393.6 L50.9,385.0 L51.1,374.7 L51.3,363.8 L51.5,352.9 L51.7,343.0 L51.9,335.0 L52.1,329.5 L52.3,327.5 L52.4,327.5 L52.6,327.5 L52.7,327.5 L52.8,327.5 L53.0,327.5 L53.1,327.5 L53.3,327.5 L53.4,327.5 L53.6,327.5 L53.7,327.5 L53.9,328.1 L54.1,329.7 L54.3,332.3 L54.4,335.7 L54.6,339.8 L54.8,344.3 L55.0,349.3 L55.2,354.5 L55.3,359.7 L55.5,364.9 L55.6,367.3 L55.6,370.2 L55.7,373.6 L55.8,377.1 L55.9,380.7 L55.9,384.2 L56.0,387.3 L56.1,389.8 L56.1,391.7 L56.2,392.7 L56.5,394.5 L56.7,396.0 L57.0,397.2 L57.3,398.2 L57.5,399.1 L57.8,399.7 L58.1,400.3 L58.3,400.7 L58.6,401.0 L58.9,401.4 L59.2,401.7 L59.5,402.1 L59.8,402.4 L60.2,402.7 L60.5,402.9 L60.8,403.2 L61.1,403.3 L61.5,403.5 L61.8,403.6 L62.1,403.6 L62.6,403.5 L63.2,403.4 L63.7,403.1 L64.3,402.8 L64.8,402.4 L65.4,402.0 L65.9,401.5 L66.4,401.1 L67.0,400.7 L67.5,400.3 L67.9,400.0 L68.3,399.7 L68.7,399.4 L69.1,399.0 L69.4,398.7 L69.8,398.3 L70.2,398.1 L70.6,397.8 L71.0,397.7 L71.4,397.6 L71.7,397.7 L72.1,397.9 L72.4,398.3 L72.8,398.7 L73.1,399.2 L73.5,399.7 L73.8,400.2 L74.2,400.7 L74.6,401.1 L74.9,401.4 L75.4,401.7 L75.9,402.0 L76.4,402.3 L76.9,402.6 L77.4,402.9 L77.9,403.1 L78.4,403.3 L78.9,403.5 L79.3,403.5 L79.8,403.6 L80.4,403.6 L81.0,403.5 L81.6,403.4 L82.2,403.3 L82.8,403.2 L83.4,403.0 L84.0,402.9 L84.6,402.7 L85.2,402.6 L85.7,402.4 L87.4,402.0 L89.1,401.5 L90.8,401.0 L92.4,400.5 L94.1,400.0 L95.8,399.4 L97.5,398.9 L99.1,398.4 L100.8,397.9 L102.5,397.5 L103.2,397.3 L104.0,397.2 L104.7,397.0 L105.4,396.8 L106.2,396.6 L106.9,396.4 L107.7,396.3 L108.4,396.2 L109.1,396.1 L109.9,396.1 L111.6,396.2 L113.3,396.3 L115.0,396.6 L116.8,396.9 L118.5,397.3 L120.2,397.8 L121.9,398.3 L123.7,398.8 L125.4,399.3 L127.1,399.8 L128.2,400.3 L129.3,400.8 L130.4,401.4 L131.4,402.1 L132.5,402.7 L133.6,403.4 L134.7,404.0 L135.8,404.5 L136.9,404.8 L137.9,405.0 L140.9,405.2 L143.9,405.3 L146.8,405.4 L149.8,405.5 L152.7,405.6 L155.7,405.7 L158.6,405.7 L161.6,405.8 L164.5,405.8 L167.5,405.8 L170.5,405.8 L173.4,405.7 L176.4,405.7 L179.3,405.6 L182.3,405.5 L185.2,405.4 L188.2,405.3 L191.1,405.2 L194.1,405.2 L197.0,405.1 L200.0,405.0 L203.0,405.0 L205.9,404.9 L208.9,404.9 L211.8,404.8 L214.8,404.7 L217.7,404.7 L220.7,404.7 L223.6,404.6 L226.6,404.6 L229.3,404.6 L231.9,404.7 L234.6,404.8 L237.2,404.8 L239.9,404.9 L242.6,405.0 L245.2,405.2 L247.9,405.3 L250.5,405.4 L253.2,405.4" fill="none" stroke="#108888" stroke-width="1.7" stroke-dasharray="5.8 2.6 1.6 2.8" stroke-linejoin="round" clip-path="url(#clipc)"/>
<path d="M49.3,406.5 L49.4,405.1 L49.5,403.6 L49.6,402.1 L49.7,400.5 L49.8,399.0 L49.9,397.6 L50.0,396.2 L50.1,394.9 L50.2,393.7 L50.3,392.7 L50.6,390.0 L50.9,387.3 L51.2,384.7 L51.5,382.3 L51.8,380.0 L52.1,378.1 L52.4,376.5 L52.6,375.2 L52.9,374.4 L53.2,374.2 L53.5,374.2 L53.8,374.3 L54.1,374.3 L54.4,374.5 L54.7,374.6 L55.0,374.8 L55.3,374.9 L55.6,375.1 L55.9,375.2 L56.2,375.3 L56.5,375.4 L56.7,375.5 L57.0,375.6 L57.3,375.7 L57.5,375.8 L57.8,375.8 L58.1,375.9 L58.3,376.0 L58.6,376.1 L58.9,376.3 L59.2,376.5 L59.5,376.7 L59.8,377.0 L60.2,377.3 L60.5,377.6 L60.8,378.0 L61.1,378.3 L61.5,378.8 L61.8,379.2 L62.1,379.7 L62.4,380.1 L62.7,380.7 L63.0,381.3 L63.3,382.0 L63.6,382.8 L63.9,383.5 L64.2,384.3 L64.5,385.0 L64.8,385.6 L65.1,386.2 L65.4,386.8 L65.8,387.4 L66.1,388.1 L66.5,388.6 L66.8,389.2 L67.2,389.8 L67.5,390.3 L67.9,390.7 L68.3,391.2 L68.6,391.6 L69.0,392.0 L69.5,392.4 L69.9,392.8 L70.3,393.1 L70.8,393.4 L71.2,393.7 L71.6,394.0 L72.1,394.3 L72.5,394.6 L72.9,394.9 L73.5,395.4 L74.1,395.8 L74.7,396.3 L75.3,396.8 L75.9,397.3 L76.5,397.7 L77.1,398.0 L77.7,398.3 L78.3,398.6 L78.8,398.7 L79.7,398.8 L80.6,398.8 L81.5,398.9 L82.4,398.9 L83.3,399.0 L84.2,399.0 L85.1,399.0 L85.9,399.1 L86.8,399.1 L87.7,399.1 L88.7,399.2 L89.7,399.3 L90.7,399.3 L91.7,399.4 L92.6,399.4 L93.6,399.5 L94.6,399.5 L95.6,399.6 L96.6,399.7 L97.6,399.7 L98.8,399.8 L100.0,399.9 L101.3,400.0 L102.5,400.2 L103.7,400.3 L105.0,400.4 L106.2,400.5 L107.4,400.7 L108.6,400.8 L109.9,401.0 L111.6,401.3 L113.3,401.6 L115.0,402.0 L116.8,402.4 L118.5,402.9 L120.2,403.3 L121.9,403.7 L123.7,404.1 L125.4,404.5 L127.1,404.7 L128.2,404.9 L129.3,405.1 L130.4,405.2 L131.4,405.4 L132.5,405.6 L133.6,405.7 L134.7,405.8 L135.8,405.9 L136.9,406.0 L137.9,406.0 L139.9,406.1 L141.9,406.1 L143.9,406.2 L145.8,406.2 L147.8,406.2 L149.8,406.2 L151.7,406.2 L153.7,406.3 L155.7,406.3 L157.6,406.3 L161.6,406.2 L165.5,406.1 L169.5,406.0 L173.4,405.9 L177.3,405.7 L181.3,405.5 L185.2,405.4 L189.2,405.2 L193.1,405.1 L197.0,405.1 L200.0,405.1 L203.0,405.1 L205.9,405.2 L208.9,405.3 L211.8,405.3 L214.8,405.4 L217.7,405.5 L220.7,405.5 L223.6,405.6 L226.6,405.6 L229.3,405.6 L231.9,405.5 L234.6,405.5 L237.2,405.4 L239.9,405.3 L242.6,405.3 L245.2,405.2 L247.9,405.1 L250.5,405.0 L253.2,405.0" fill="none" stroke="#ff1010" stroke-width="1.9" stroke-linejoin="round" clip-path="url(#clipc)"/>
<path d="M49.3,406.5 L49.4,405.3 L49.5,404.1 L49.6,402.8 L49.7,401.6 L49.8,400.3 L49.9,399.1 L50.0,397.9 L50.1,396.8 L50.2,395.8 L50.3,394.8 L50.6,392.1 L50.9,389.4 L51.2,386.6 L51.5,384.0 L51.8,381.6 L52.1,379.4 L52.4,377.6 L52.6,376.2 L52.9,375.3 L53.2,375.0 L53.8,375.0 L54.4,375.1 L54.9,375.1 L55.5,375.2 L56.0,375.4 L56.6,375.5 L57.2,375.7 L57.7,375.8 L58.3,376.0 L58.9,376.1 L59.2,376.2 L59.5,376.3 L59.8,376.4 L60.2,376.5 L60.5,376.6 L60.8,376.7 L61.1,376.8 L61.5,377.0 L61.8,377.1 L62.1,377.3 L62.5,377.6 L62.9,378.1 L63.3,378.7 L63.7,379.4 L64.1,380.1 L64.5,380.9 L64.9,381.7 L65.3,382.5 L65.7,383.3 L66.0,384.0 L66.4,384.7 L66.8,385.4 L67.2,386.1 L67.6,386.9 L68.0,387.6 L68.4,388.3 L68.8,389.0 L69.2,389.6 L69.6,390.1 L70.0,390.5 L70.3,390.8 L70.6,391.0 L70.9,391.2 L71.2,391.3 L71.5,391.5 L71.8,391.6 L72.1,391.8 L72.3,392.0 L72.6,392.2 L72.9,392.5 L73.2,392.9 L73.5,393.5 L73.8,394.2 L74.1,395.0 L74.4,395.8 L74.7,396.7 L75.0,397.5 L75.3,398.2 L75.6,398.8 L75.9,399.1 L76.4,399.6 L76.9,400.0 L77.4,400.4 L77.9,400.8 L78.4,401.1 L78.8,401.4 L79.3,401.6 L79.8,401.8 L80.3,401.9 L80.8,401.9 L81.5,401.9 L82.2,401.9 L82.9,401.9 L83.6,401.9 L84.3,401.9 L85.0,401.9 L85.6,401.9 L86.3,401.9 L87.0,401.9 L87.7,401.9 L88.7,401.9 L89.7,401.9 L90.7,401.8 L91.7,401.8 L92.6,401.7 L93.6,401.6 L94.6,401.5 L95.6,401.4 L96.6,401.3 L97.6,401.2 L98.8,401.1 L100.0,401.0 L101.3,400.9 L102.5,400.7 L103.7,400.6 L105.0,400.5 L106.2,400.3 L107.4,400.2 L108.6,400.0 L109.9,399.8 L110.3,399.8 L110.8,399.7 L111.2,399.6 L111.7,399.6 L112.1,399.5 L112.5,399.4 L113.0,399.4 L113.4,399.3 L113.9,399.3 L114.3,399.3 L115.6,399.3 L116.9,399.6 L118.2,399.9 L119.4,400.4 L120.7,400.9 L122.0,401.5 L123.3,402.0 L124.6,402.5 L125.8,403.0 L127.1,403.3 L128.2,403.6 L129.3,403.9 L130.4,404.2 L131.4,404.5 L132.5,404.8 L133.6,405.0 L134.7,405.3 L135.8,405.4 L136.9,405.5 L137.9,405.6 L140.9,405.5 L143.9,405.5 L146.8,405.4 L149.8,405.2 L152.7,405.0 L155.7,404.8 L158.6,404.6 L161.6,404.4 L164.5,404.2 L167.5,403.9 L170.4,403.7 L173.2,403.3 L176.1,402.9 L178.9,402.4 L181.8,402.0 L184.6,401.5 L187.5,401.1 L190.4,400.8 L193.2,400.6 L196.1,400.5 L198.3,400.6 L200.6,400.6 L202.9,400.6 L205.1,400.7 L207.4,400.8 L209.7,400.9 L211.9,401.0 L214.2,401.0 L216.5,401.1 L218.7,401.2 L222.2,401.4 L225.6,401.6 L229.1,401.9 L232.5,402.1 L236.0,402.4 L239.4,402.7 L242.9,403.1 L246.3,403.4 L249.7,403.7 L253.2,403.9" fill="none" stroke="#1010ff" stroke-width="1.7" stroke-dasharray="5.8 2.6 1.6 2.8" stroke-linejoin="round" clip-path="url(#clipc)"/>
<path d="M49.3,406.5 L49.8,402.8 L50.3,398.6 L50.9,394.2 L51.4,389.7 L51.9,385.3 L52.4,381.2 L53.0,377.7 L53.5,375.0 L54.0,373.2 L54.5,372.5 L54.8,372.8 L55.2,373.4 L55.5,374.5 L55.8,375.8 L56.1,377.3 L56.5,378.9 L56.8,380.6 L57.1,382.2 L57.4,383.8 L57.8,385.1 L58.2,386.8 L58.6,388.6 L59.1,390.3 L59.5,392.1 L59.9,393.8 L60.4,395.5 L60.8,397.2 L61.2,398.7 L61.7,400.1 L62.1,401.4 L62.3,401.9 L62.5,402.5 L62.7,403.1 L62.9,403.7 L63.1,404.3 L63.3,404.8 L63.5,405.2 L63.7,405.5 L63.9,405.7 L64.1,405.8 L64.7,405.6 L65.3,405.2 L65.8,404.5 L66.4,403.5 L67.0,402.4 L67.6,401.1 L68.2,399.7 L68.8,398.1 L69.4,396.6 L70.0,394.9 L70.3,394.1 L70.6,393.2 L70.9,392.2 L71.2,391.1 L71.5,390.0 L71.8,388.6 L72.1,387.2 L72.3,385.5 L72.6,383.7 L72.9,381.8 L73.0,380.9 L73.1,379.7 L73.2,378.3 L73.3,376.7 L73.4,375.2 L73.5,373.6 L73.6,372.2 L73.7,371.1 L73.8,370.2 L73.9,369.7 L74.4,368.6 L74.9,367.6 L75.4,366.8 L75.9,366.1 L76.4,365.5 L76.9,365.1 L77.4,364.8 L77.9,364.5 L78.4,364.4 L78.8,364.4 L79.3,364.4 L79.8,364.4 L80.3,364.4 L80.8,364.4 L81.3,364.4 L81.8,364.4 L82.3,364.4 L82.8,364.4 L83.3,364.4 L83.8,364.4 L84.2,364.4 L84.6,364.6 L85.0,364.9 L85.4,365.2 L85.7,365.6 L86.1,366.0 L86.5,366.4 L86.9,366.8 L87.3,367.2 L87.7,367.5 L89.2,368.5 L90.7,369.5 L92.1,370.4 L93.6,371.3 L95.1,372.1 L96.6,373.0 L98.1,373.8 L99.5,374.6 L101.0,375.4 L102.5,376.3 L103.2,376.7 L104.0,377.1 L104.7,377.4 L105.4,377.8 L106.2,378.2 L106.9,378.5 L107.7,378.9 L108.4,379.3 L109.1,379.8 L109.9,380.2 L110.4,380.6 L111.0,381.0 L111.5,381.4 L112.0,381.9 L112.6,382.3 L113.1,382.8 L113.7,383.2 L114.2,383.7 L114.8,384.1 L115.3,384.6 L116.4,385.4 L117.5,386.2 L118.5,387.0 L119.6,387.8 L120.7,388.5 L121.8,389.3 L122.9,390.1 L124.0,391.0 L125.0,391.8 L126.1,392.7 L127.2,393.8 L128.3,395.0 L129.4,396.3 L130.5,397.7 L131.5,399.1 L132.6,400.4 L133.7,401.5 L134.8,402.4 L135.9,403.0 L137.0,403.2 L137.8,403.1 L138.5,402.9 L139.3,402.5 L140.1,402.1 L140.9,401.5 L141.7,400.9 L142.5,400.3 L143.3,399.7 L144.1,399.1 L144.8,398.6 L146.5,397.4 L148.2,396.0 L149.9,394.6 L151.5,393.1 L153.2,391.6 L154.9,390.2 L156.6,388.9 L158.2,387.7 L159.9,386.8 L161.6,386.1 L164.2,385.2 L166.7,384.5 L169.3,383.7 L171.8,383.0 L174.4,382.4 L177.0,381.9 L179.5,381.5 L182.1,381.2 L184.6,381.0 L187.2,380.9 L189.2,381.1 L191.1,381.4 L193.1,381.9 L195.1,382.5 L197.0,383.3 L199.0,384.1 L201.0,385.0 L203.0,385.8 L204.9,386.7 L206.9,387.5 L208.7,388.2 L210.4,389.0 L212.2,389.9 L214.0,390.8 L215.8,391.7 L217.5,392.6 L219.3,393.4 L221.1,394.2 L222.9,394.8 L224.6,395.3 L225.7,395.5 L226.8,395.8 L227.9,396.0 L229.0,396.3 L230.0,396.5 L231.1,396.7 L232.2,396.8 L233.3,396.9 L234.4,397.0 L235.5,397.0 L237.2,397.0 L239.0,396.9 L240.8,396.8 L242.6,396.6 L244.3,396.4 L246.1,396.2 L247.9,395.9 L249.6,395.7 L251.4,395.5 L253.2,395.3" fill="none" stroke="#30ee30" stroke-width="1.7" stroke-dasharray="5.8 2.6 1.6 2.8" stroke-linejoin="round" clip-path="url(#clipc)"/>
<path d="M49.3,406.5 L49.5,401.3 L49.7,396.2 L49.9,391.2 L50.1,386.2 L50.3,381.2 L50.5,376.0 L50.7,370.8 L50.9,365.4 L51.1,359.8 L51.3,354.0 L51.4,349.7 L51.5,344.9 L51.7,339.7 L51.8,334.4 L51.9,329.0 L52.0,323.9 L52.2,319.2 L52.3,315.1 L52.4,311.9 L52.6,309.6 L52.6,308.5 L52.7,307.6 L52.8,306.9 L52.9,306.2 L53.0,305.6 L53.1,305.0 L53.2,304.4 L53.3,303.7 L53.3,302.9 L53.4,302.0 L53.5,301.1 L53.6,300.1 L53.7,299.0 L53.8,297.8 L53.8,296.6 L53.9,295.3 L54.0,293.9 L54.1,292.6 L54.1,291.2 L54.2,289.8 L54.4,286.6 L54.5,282.8 L54.7,278.7 L54.9,274.3 L55.0,270.0 L55.2,265.8 L55.3,262.0 L55.5,258.8 L55.6,256.3 L55.8,254.7 L55.9,253.9 L56.1,253.1 L56.2,252.3 L56.4,251.6 L56.5,251.0 L56.6,250.5 L56.8,250.1 L56.9,249.8 L57.0,249.6 L57.2,249.5 L57.3,249.5 L57.5,249.6 L57.6,249.7 L57.8,249.9 L57.9,250.1 L58.1,250.3 L58.2,250.5 L58.4,250.8 L58.5,251.0 L58.7,251.2 L59.0,251.9 L59.3,252.6 L59.7,253.4 L60.0,254.4 L60.4,255.3 L60.7,256.4 L61.1,257.4 L61.4,258.5 L61.8,259.6 L62.1,260.6 L62.7,262.3 L63.3,264.1 L63.9,266.0 L64.5,267.9 L65.1,269.8 L65.7,271.8 L66.2,273.7 L66.8,275.6 L67.4,277.5 L68.0,279.3 L68.6,280.9 L69.1,282.5 L69.7,284.0 L70.2,285.6 L70.8,287.1 L71.3,288.6 L71.9,290.2 L72.4,291.8 L73.0,293.4 L73.5,295.1 L73.8,296.1 L74.1,297.2 L74.4,298.3 L74.7,299.4 L75.0,300.6 L75.3,301.7 L75.6,302.8 L75.9,303.8 L76.2,304.7 L76.5,305.4 L77.1,306.8 L77.7,308.1 L78.4,309.2 L79.0,310.3 L79.6,311.2 L80.3,312.1 L80.9,313.0 L81.5,313.9 L82.2,314.8 L82.8,315.7 L83.6,316.8 L84.4,317.9 L85.2,319.0 L85.9,320.0 L86.7,321.0 L87.5,322.0 L88.3,323.0 L89.1,324.0 L89.9,325.0 L90.7,326.0 L91.9,327.4 L93.0,328.9 L94.2,330.3 L95.4,331.8 L96.6,333.2 L97.8,334.6 L98.9,336.0 L100.1,337.4 L101.3,338.7 L102.5,340.0 L103.2,340.8 L104.0,341.6 L104.7,342.3 L105.4,343.1 L106.2,343.9 L106.9,344.6 L107.7,345.3 L108.4,346.0 L109.1,346.7 L109.9,347.3 L111.6,348.7 L113.3,349.9 L115.0,351.1 L116.8,352.2 L118.5,353.3 L120.2,354.3 L121.9,355.4 L123.7,356.4 L125.4,357.5 L127.1,358.6 L128.8,359.8 L130.5,361.0 L132.1,362.1 L133.8,363.3 L135.5,364.5 L137.2,365.7 L138.8,366.9 L140.5,368.1 L142.2,369.2 L143.9,370.3 L146.2,371.8 L148.6,373.3 L151.0,374.8 L153.3,376.2 L155.7,377.6 L158.0,379.0 L160.4,380.4 L162.8,381.8 L165.1,383.3 L167.5,384.7 L169.2,385.7 L170.8,386.8 L172.5,387.9 L174.2,389.0 L175.9,390.0 L177.5,391.1 L179.2,392.1 L180.9,393.1 L182.6,393.9 L184.2,394.7 L186.0,395.5 L187.7,396.2 L189.4,396.9 L191.1,397.6 L192.9,398.3 L194.6,398.9 L196.3,399.4 L198.0,399.9 L199.8,400.3 L201.5,400.5 L203.2,400.8 L204.9,401.0 L206.7,401.2 L208.4,401.4 L210.1,401.5 L211.8,401.7 L213.5,401.8 L215.3,401.9 L217.0,401.9 L218.7,401.9 L220.4,401.9 L222.1,401.8 L223.7,401.6 L225.4,401.3 L227.1,401.0 L228.8,400.6 L230.4,400.2 L232.1,399.8 L233.8,399.4 L235.5,399.0 L237.3,398.5 L239.2,397.9 L241.1,397.3 L243.0,396.5 L244.8,395.8 L246.7,395.0 L248.6,394.1 L250.4,393.3 L252.3,392.5 L254.2,391.8" fill="none" stroke="#808010" stroke-width="1.7" stroke-dasharray="5.8 2.6 1.6 2.8" stroke-linejoin="round" clip-path="url(#clipc)"/>
<path d="M84.8,248.1H106.1" stroke="#108888" stroke-width="1.8" stroke-dasharray="6 3 1.3 3"/>
<text x="108.7" y="251.3" font-size="9.1" text-anchor="start" fill="#1e1e1e" stroke="#1e1e1e" stroke-width="0.18">Modified  Anssari-Benam</text>
<text x="214.0" y="251.5" font-size="9.1" fill="#1e1e1e" stroke="#1e1e1e" stroke-width="0.18">δ=1.1%</text><path d="M214.3,243.2h4.2" stroke="#1e1e1e" stroke-width="0.8"/>
<path d="M84.8,259.9H106.1" stroke="#ff1010" stroke-width="1.8"/>
<text x="108.7" y="263.1" font-size="9.1" text-anchor="start" fill="#1e1e1e" stroke="#1e1e1e" stroke-width="0.18">This work</text>
<text x="214.0" y="263.3" font-size="9.1" fill="#1e1e1e" stroke="#1e1e1e" stroke-width="0.18">δ=1.3%</text><path d="M214.3,255.0h4.2" stroke="#1e1e1e" stroke-width="0.8"/>
<path d="M84.8,272.0H106.1" stroke="#1010ff" stroke-width="1.8" stroke-dasharray="6 3 1.3 3"/>
<text x="108.7" y="275.2" font-size="9.1" text-anchor="start" fill="#1e1e1e" stroke="#1e1e1e" stroke-width="0.18">Ogden-N3</text>
<text x="214.0" y="275.4" font-size="9.1" fill="#1e1e1e" stroke="#1e1e1e" stroke-width="0.18">δ=1.4%</text><path d="M214.3,267.1h4.2" stroke="#1e1e1e" stroke-width="0.8"/>
<path d="M84.8,284.5H106.1" stroke="#30ee30" stroke-width="1.8" stroke-dasharray="6 3 1.3 3"/>
<text x="108.7" y="287.7" font-size="9.1" text-anchor="start" fill="#1e1e1e" stroke="#1e1e1e" stroke-width="0.18">Alexander</text>
<text x="214.0" y="287.9" font-size="9.1" fill="#1e1e1e" stroke="#1e1e1e" stroke-width="0.18">δ=1.6%</text><path d="M214.3,279.6h4.2" stroke="#1e1e1e" stroke-width="0.8"/>
<path d="M84.8,296.5H106.1" stroke="#808010" stroke-width="1.8" stroke-dasharray="6 3 1.3 3"/>
<text x="108.7" y="299.7" font-size="9.1" text-anchor="start" fill="#1e1e1e" stroke="#1e1e1e" stroke-width="0.18">Melly</text>
<text x="214.0" y="299.9" font-size="9.1" fill="#1e1e1e" stroke="#1e1e1e" stroke-width="0.18">δ=7.8%</text><path d="M214.3,291.6h4.2" stroke="#1e1e1e" stroke-width="0.8"/>
<text x="158.4" y="433.8" font-size="11.5" text-anchor="middle" fill="#1e1e1e" stroke="#1e1e1e" stroke-width="0.3">Stretch</text>
<text transform="translate(26.2,318.5) rotate(-90)" font-size="11.5" text-anchor="middle" fill="#1e1e1e" stroke="#1e1e1e" stroke-width="0.18">Relative error (×100%)</text>
<text x="6.2" y="242.9" font-size="19" font-weight="bold" fill="#000" stroke="#000" stroke-width="0.18">c</text>
<path d="M324.6,406.5 L324.8,403.1 L325.1,399.4 L325.3,395.3 L325.5,391.3 L325.8,387.3 L326.0,383.6 L326.2,380.5 L326.5,378.0 L326.7,376.3 L326.9,375.8 L327.1,376.3 L327.2,377.7 L327.3,379.9 L327.5,382.5 L327.6,385.4 L327.8,388.3 L327.9,391.0 L328.0,393.4 L328.2,395.1 L328.3,396.0 L328.6,396.8 L328.9,397.5 L329.2,398.1 L329.5,398.6 L329.8,399.1 L330.0,399.4 L330.3,399.7 L330.6,399.9 L330.9,400.0 L331.2,400.1 L331.9,399.9 L332.7,399.5 L333.4,398.8 L334.1,397.9 L334.9,396.8 L335.6,395.6 L336.3,394.3 L337.1,392.9 L337.8,391.4 L338.5,390.0 L339.1,388.7 L339.6,386.9 L340.2,384.9 L340.7,382.8 L341.3,380.5 L341.8,378.4 L342.3,376.4 L342.9,374.6 L343.4,373.3 L344.0,372.5 L344.3,372.1 L344.6,371.9 L344.9,371.6 L345.2,371.3 L345.5,371.1 L345.8,370.9 L346.1,370.7 L346.4,370.6 L346.8,370.5 L347.1,370.5 L347.5,370.7 L347.8,371.1 L348.2,371.7 L348.6,372.6 L349.0,373.5 L349.4,374.5 L349.8,375.6 L350.2,376.6 L350.6,377.5 L350.9,378.3 L351.6,379.6 L352.3,380.9 L353.0,382.2 L353.7,383.4 L354.4,384.7 L355.1,385.9 L355.8,387.0 L356.5,388.1 L357.2,389.1 L357.9,390.0 L358.7,390.9 L359.5,391.8 L360.2,392.7 L361.0,393.5 L361.8,394.3 L362.6,395.0 L363.3,395.7 L364.1,396.3 L364.9,396.9 L365.7,397.4 L366.3,397.7 L366.9,398.1 L367.5,398.5 L368.1,398.8 L368.8,399.2 L369.4,399.5 L370.0,399.7 L370.6,399.9 L371.2,400.0 L371.9,400.1 L372.5,400.0 L373.1,399.8 L373.7,399.6 L374.3,399.2 L375.0,398.8 L375.6,398.3 L376.2,397.8 L376.8,397.3 L377.4,396.8 L378.1,396.4 L379.0,395.7 L379.9,394.9 L380.8,394.0 L381.8,393.1 L382.7,392.2 L383.6,391.3 L384.6,390.4 L385.5,389.6 L386.4,388.9 L387.3,388.2 L388.4,387.5 L389.5,386.8 L390.6,386.1 L391.7,385.4 L392.8,384.8 L393.9,384.2 L394.9,383.7 L396.0,383.3 L397.1,383.0 L398.2,382.8 L399.7,382.6 L401.1,382.4 L402.6,382.2 L404.1,382.1 L405.6,381.9 L407.0,381.8 L408.5,381.7 L410.0,381.7 L411.4,381.6 L412.9,381.6 L414.1,381.6 L415.4,381.6 L416.6,381.6 L417.9,381.6 L419.1,381.7 L420.3,381.7 L421.6,381.7 L422.8,381.7 L424.1,381.8 L425.3,381.8 L427.2,381.9 L429.2,382.2 L431.1,382.6 L433.1,383.0 L435.0,383.6 L436.9,384.1 L438.9,384.7 L440.8,385.3 L442.7,385.8 L444.7,386.3 L446.7,386.7 L448.7,387.3 L450.7,387.8 L452.7,388.4 L454.7,389.0 L456.8,389.5 L458.8,389.9 L460.8,390.2 L462.8,390.5 L464.8,390.5 L466.6,390.5 L468.4,390.5 L470.2,390.5 L471.9,390.5 L473.7,390.5 L475.5,390.5 L477.3,390.5 L479.1,390.5 L480.8,390.5 L482.6,390.5 L484.4,390.5 L486.2,390.5 L488.0,390.4 L489.8,390.2 L491.5,390.1 L493.3,389.9 L495.1,389.6 L496.9,389.4 L498.7,389.1 L500.4,388.8 L501.5,388.5 L502.5,388.2 L503.5,387.7 L504.5,387.1 L505.5,386.4 L506.5,385.7 L507.5,385.0 L508.5,384.2 L509.5,383.4 L510.5,382.6 L511.4,381.8 L512.4,380.9 L513.3,380.0 L514.2,378.9 L515.2,377.9 L516.1,376.8 L517.0,375.7 L518.0,374.6 L518.9,373.5 L519.8,372.5 L521.2,370.9 L522.6,369.3 L524.0,367.7 L525.4,366.1 L526.8,364.4 L528.2,362.8 L529.6,361.2 L531.0,359.6 L532.4,357.9 L533.8,356.3" fill="none" stroke="#1010ff" stroke-width="1.7" stroke-dasharray="5.8 2.6 1.6 2.8" stroke-linejoin="round" clip-path="url(#clipd)"/>
<path d="M324.6,406.5 L325.4,381.4 L326.9,390.0 L328.3,384.3 L331.2,391.5 L333.9,387.2 L337.0,391.5 L340.1,384.3 L343.6,382.8 L347.3,362.7 L370.1,375.6 L383.5,388.2 L394.3,398.1 L405.6,400.1 L419.9,401.8 L430.7,403.6 L440.8,405.9 L464.8,393.7 L500.4,366.8 L533.8,343.1" fill="none" stroke="#ff1010" stroke-width="1.9" stroke-linejoin="round" clip-path="url(#clipd)"/>
<path d="M324.6,406.5 L324.9,406.1 L325.2,405.8 L325.5,405.5 L325.8,405.2 L326.1,404.9 L326.5,404.6 L326.8,404.2 L327.1,403.8 L327.4,403.2 L327.7,402.6 L327.9,402.0 L328.1,401.1 L328.3,400.0 L328.5,398.7 L328.7,397.3 L329.0,395.8 L329.2,394.2 L329.4,392.7 L329.6,391.3 L329.8,390.0 L330.1,388.1 L330.4,386.1 L330.7,383.9 L331.0,381.8 L331.3,379.7 L331.6,377.7 L331.9,376.0 L332.1,374.6 L332.4,373.5 L332.7,372.8 L333.5,372.0 L334.2,371.4 L334.9,371.0 L335.7,370.6 L336.4,370.4 L337.1,370.1 L337.9,369.8 L338.6,369.4 L339.4,368.9 L340.1,368.2 L340.6,367.1 L341.2,365.3 L341.7,362.9 L342.3,360.1 L342.8,357.2 L343.3,354.4 L343.9,351.7 L344.4,349.6 L345.0,348.0 L345.5,347.4 L346.1,347.2 L346.6,347.0 L347.1,346.9 L347.7,346.7 L348.2,346.6 L348.8,346.5 L349.3,346.5 L349.9,346.4 L350.4,346.4 L350.9,346.4 L351.5,346.4 L352.0,346.6 L352.6,346.9 L353.1,347.2 L353.6,347.6 L354.2,348.1 L354.7,348.6 L355.3,349.1 L355.8,349.6 L356.4,350.1 L357.1,350.7 L357.8,351.5 L358.5,352.4 L359.1,353.3 L359.8,354.2 L360.5,355.2 L361.2,356.2 L361.9,357.2 L362.6,358.1 L363.3,359.0 L364.1,360.0 L364.9,360.9 L365.7,361.7 L366.4,362.6 L367.2,363.5 L368.0,364.4 L368.8,365.3 L369.5,366.2 L370.3,367.2 L371.1,368.2 L371.8,369.1 L372.5,370.2 L373.2,371.3 L373.9,372.4 L374.6,373.5 L375.3,374.6 L376.0,375.8 L376.7,376.9 L377.4,378.0 L378.1,379.1 L378.8,380.2 L379.6,381.3 L380.4,382.4 L381.1,383.5 L381.9,384.6 L382.7,385.7 L383.5,386.8 L384.2,387.8 L385.0,388.9 L385.8,390.0 L386.3,390.7 L386.9,391.6 L387.4,392.4 L388.0,393.3 L388.5,394.2 L389.1,395.0 L389.6,395.7 L390.1,396.4 L390.7,396.9 L391.2,397.4 L392.1,397.9 L392.9,398.4 L393.8,398.9 L394.6,399.3 L395.5,399.7 L396.3,400.0 L397.2,400.3 L398.0,400.5 L398.9,400.7 L399.7,400.9 L400.5,401.0 L401.3,401.0 L402.1,401.1 L402.8,401.2 L403.6,401.3 L404.4,401.3 L405.2,401.4 L405.9,401.4 L406.7,401.4 L407.5,401.4 L408.7,401.3 L410.0,400.8 L411.2,400.0 L412.4,399.0 L413.7,397.8 L414.9,396.6 L416.2,395.3 L417.4,394.0 L418.6,392.8 L419.9,391.7 L421.9,390.1 L423.9,388.4 L425.9,386.7 L427.9,385.0 L430.0,383.2 L432.0,381.5 L434.0,379.7 L436.0,378.0 L438.0,376.2 L440.0,374.4 L442.0,372.6 L444.0,370.8 L446.1,368.9 L448.1,367.1 L450.1,365.2 L452.1,363.4 L454.1,361.5 L456.1,359.6 L458.1,357.8 L460.2,355.9 L462.2,354.1 L464.2,352.2 L466.2,350.3 L468.2,348.5 L470.2,346.6 L472.2,344.8 L474.3,342.9 L476.3,341.1 L478.3,339.2 L480.3,337.4 L482.3,335.7 L484.3,333.9 L486.3,332.2 L488.4,330.4 L490.4,328.7 L492.4,327.0 L494.4,325.3 L496.4,323.5 L498.4,321.7 L500.4,319.9 L502.4,318.1 L504.3,316.2 L506.3,314.3 L508.2,312.3 L510.1,310.4 L512.1,308.4 L514.0,306.5 L515.9,304.7 L517.9,302.9 L519.8,301.2 L521.2,300.1 L522.6,299.0 L524.0,298.0 L525.4,296.9 L526.8,295.9 L528.2,294.9 L529.6,293.9 L531.0,293.0 L532.4,292.0 L533.8,290.9" fill="none" stroke="#30ee30" stroke-width="1.7" stroke-dasharray="5.8 2.6 1.6 2.8" stroke-linejoin="round" clip-path="url(#clipd)"/>
<path d="M324.6,406.5 L324.8,398.0 L325.1,388.4 L325.3,378.3 L325.5,367.9 L325.8,357.9 L326.0,348.6 L326.2,340.6 L326.5,334.3 L326.7,330.2 L326.9,328.7 L327.1,328.8 L327.2,329.3 L327.4,330.1 L327.5,331.0 L327.7,332.1 L327.9,333.3 L328.0,334.6 L328.2,335.9 L328.3,337.2 L328.5,338.4 L328.7,340.4 L328.9,342.7 L329.2,345.3 L329.4,348.0 L329.6,350.7 L329.9,353.3 L330.1,355.6 L330.3,357.6 L330.6,359.0 L330.8,359.8 L331.3,360.6 L331.7,361.1 L332.2,361.5 L332.7,361.8 L333.1,362.1 L333.6,362.3 L334.1,362.6 L334.5,363.0 L335.0,363.4 L335.4,364.1 L336.0,365.8 L336.5,369.1 L337.1,373.5 L337.6,378.5 L338.2,383.9 L338.7,389.2 L339.2,394.1 L339.8,398.0 L340.3,400.7 L340.9,401.6 L341.1,401.1 L341.4,399.8 L341.7,397.7 L342.0,395.2 L342.2,392.3 L342.5,389.2 L342.8,386.2 L343.0,383.4 L343.3,380.9 L343.6,379.1 L344.3,375.1 L345.1,371.5 L345.8,368.1 L346.5,365.1 L347.3,362.3 L348.0,359.6 L348.7,357.1 L349.5,354.7 L350.2,352.4 L350.9,350.1 L351.8,347.5 L352.6,345.1 L353.4,342.8 L354.2,340.6 L355.0,338.4 L355.9,336.4 L356.7,334.3 L357.5,332.4 L358.3,330.5 L359.1,328.7 L360.0,326.9 L360.8,325.1 L361.6,323.3 L362.4,321.6 L363.2,319.9 L364.0,318.3 L364.8,316.8 L365.6,315.4 L366.4,314.2 L367.2,313.1 L368.0,312.2 L368.8,311.2 L369.5,310.3 L370.3,309.5 L371.1,308.7 L371.9,308.0 L372.6,307.4 L373.4,306.8 L374.2,306.4 L375.0,306.1 L375.7,305.9 L376.5,305.7 L377.3,305.5 L378.1,305.3 L378.8,305.1 L379.6,305.0 L380.4,304.9 L381.1,304.8 L381.9,304.8 L382.7,304.7 L383.4,304.8 L384.2,305.0 L384.9,305.2 L385.6,305.5 L386.4,305.9 L387.1,306.3 L387.8,306.7 L388.6,307.0 L389.3,307.4 L390.1,307.7 L391.6,308.2 L393.2,308.6 L394.8,309.0 L396.4,309.4 L398.0,309.8 L399.6,310.2 L401.2,310.6 L402.8,311.1 L404.3,311.6 L405.9,312.1 L407.3,312.7 L408.7,313.3 L410.1,314.0 L411.5,314.7 L412.9,315.5 L414.3,316.3 L415.7,317.1 L417.1,318.0 L418.5,319.0 L419.9,319.9 L421.4,321.1 L423.0,322.4 L424.5,323.8 L426.1,325.3 L427.6,326.8 L429.2,328.5 L430.7,330.1 L432.3,331.7 L433.8,333.3 L435.4,334.9 L436.8,336.4 L438.3,337.8 L439.8,339.3 L441.3,340.7 L442.7,342.2 L444.2,343.7 L445.7,345.2 L447.1,346.8 L448.6,348.4 L450.1,350.1 L451.6,351.8 L453.0,353.6 L454.5,355.5 L456.0,357.4 L457.5,359.3 L458.9,361.3 L460.4,363.4 L461.9,365.5 L463.3,367.7 L464.8,369.9 L465.8,371.5 L466.8,373.2 L467.8,375.0 L468.8,376.9 L469.8,378.7 L470.9,380.6 L471.9,382.4 L472.9,384.2 L473.9,385.9 L474.9,387.4 L475.7,388.6 L476.4,389.8 L477.2,391.1 L478.0,392.3 L478.8,393.4 L479.5,394.5 L480.3,395.5 L481.1,396.3 L481.9,397.0 L482.6,397.6 L483.4,397.9 L484.2,398.3 L485.0,398.7 L485.7,399.0 L486.5,399.3 L487.3,399.6 L488.0,399.8 L488.8,399.9 L489.6,400.0 L490.4,400.1 L491.4,400.0 L492.4,399.9 L493.4,399.6 L494.4,399.3 L495.4,398.8 L496.4,398.4 L497.4,397.9 L498.4,397.3 L499.4,396.8 L500.4,396.2 L501.7,395.4 L502.9,394.3 L504.2,393.1 L505.4,391.8 L506.6,390.3 L507.9,388.7 L509.1,387.2 L510.4,385.6 L511.6,384.0 L512.8,382.6 L514.9,380.1 L517.0,377.7 L519.1,375.1 L521.2,372.6 L523.3,370.0 L525.4,367.4 L527.5,364.8 L529.6,362.2 L531.7,359.6 L533.8,357.1" fill="none" stroke="#8a20f0" stroke-width="1.7" stroke-dasharray="5.8 2.6 1.6 2.8" stroke-linejoin="round" clip-path="url(#clipd)"/>
<path d="M324.6,406.5 L324.8,394.0 L325.1,379.9 L325.3,364.8 L325.5,349.6 L325.8,334.8 L326.0,321.1 L326.2,309.3 L326.5,300.0 L326.7,293.9 L326.9,291.7 L327.1,292.1 L327.2,293.1 L327.3,294.6 L327.5,296.5 L327.6,298.7 L327.8,301.0 L327.9,303.4 L328.0,305.6 L328.2,307.6 L328.3,309.2 L328.8,313.6 L329.2,317.8 L329.6,321.7 L330.1,325.5 L330.5,329.1 L331.0,332.5 L331.4,335.7 L331.9,338.7 L332.3,341.6 L332.7,344.2 L333.2,346.6 L333.6,348.8 L334.0,350.9 L334.4,352.8 L334.9,354.6 L335.3,356.4 L335.7,358.2 L336.1,360.1 L336.6,362.0 L337.0,364.1 L337.6,367.3 L338.2,370.9 L338.7,374.7 L339.3,378.7 L339.9,382.6 L340.5,386.4 L341.1,389.7 L341.6,392.5 L342.2,394.7 L342.8,396.0 L343.2,396.6 L343.7,397.2 L344.1,397.7 L344.5,398.2 L344.9,398.6 L345.4,399.0 L345.8,399.3 L346.2,399.5 L346.6,399.6 L347.1,399.7 L348.0,399.6 L348.9,399.2 L349.9,398.6 L350.8,397.9 L351.7,397.0 L352.6,396.1 L353.6,395.0 L354.5,394.0 L355.4,392.9 L356.4,391.9 L357.1,391.0 L357.9,390.0 L358.7,388.9 L359.5,387.7 L360.2,386.5 L361.0,385.3 L361.8,384.1 L362.6,383.0 L363.3,382.1 L364.1,381.2 L364.8,380.5 L365.5,379.8 L366.2,379.0 L366.9,378.3 L367.6,377.6 L368.3,377.0 L369.0,376.5 L369.7,376.1 L370.4,375.9 L371.1,375.8 L371.8,375.8 L372.5,375.8 L373.2,375.9 L373.9,376.0 L374.6,376.2 L375.3,376.3 L376.0,376.5 L376.7,376.7 L377.4,376.9 L378.1,377.1 L379.1,377.6 L380.1,378.2 L381.1,379.0 L382.1,380.0 L383.1,381.0 L384.1,382.2 L385.1,383.3 L386.1,384.4 L387.1,385.5 L388.1,386.5 L388.7,387.0 L389.4,387.6 L390.0,388.2 L390.6,388.8 L391.2,389.4 L391.8,390.0 L392.5,390.5 L393.1,391.0 L393.7,391.5 L394.3,391.9 L395.3,392.5 L396.3,393.0 L397.3,393.5 L398.3,393.9 L399.4,394.4 L400.4,394.8 L401.4,395.2 L402.4,395.6 L403.4,396.0 L404.4,396.4 L405.9,397.1 L407.5,397.9 L409.0,398.8 L410.6,399.7 L412.1,400.5 L413.7,401.3 L415.2,402.0 L416.8,402.5 L418.3,402.9 L419.9,403.0 L421.4,402.9 L423.0,402.7 L424.5,402.3 L426.1,401.7 L427.6,401.1 L429.2,400.4 L430.7,399.6 L432.3,398.8 L433.8,398.0 L435.4,397.2 L436.8,396.3 L438.3,395.2 L439.8,394.0 L441.3,392.7 L442.7,391.3 L444.2,389.9 L445.7,388.4 L447.1,387.0 L448.6,385.5 L450.1,384.1 L452.1,382.3 L454.1,380.4 L456.1,378.5 L458.1,376.5 L460.2,374.6 L462.2,372.6 L464.2,370.7 L466.2,368.8 L468.2,366.9 L470.2,365.1 L472.2,363.2 L474.3,361.4 L476.3,359.6 L478.3,357.8 L480.3,356.0 L482.3,354.3 L484.3,352.6 L486.3,350.9 L488.4,349.2 L490.4,347.5 L492.4,346.0 L494.4,344.4 L496.4,342.9 L498.4,341.4 L500.4,339.9 L502.5,338.4 L504.5,337.0 L506.5,335.5 L508.5,334.1 L510.5,332.6 L512.8,330.9 L515.2,329.1 L517.5,327.4 L519.8,325.7 L522.1,324.0 L524.5,322.3 L526.8,320.6 L529.1,318.9 L531.4,317.2 L533.8,315.4" fill="none" stroke="#108888" stroke-width="1.7" stroke-dasharray="5.8 2.6 1.6 2.8" stroke-linejoin="round" clip-path="url(#clipd)"/>
<path d="M348.6,245.0H368.6" stroke="#1010ff" stroke-width="1.8" stroke-dasharray="6 3 1.3 3"/>
<text x="372.0" y="248.2" font-size="9.1" text-anchor="start" fill="#1e1e1e" stroke="#1e1e1e" stroke-width="0.18">Ogden-N3</text>
<text x="476.0" y="248.4" font-size="9.1" fill="#1e1e1e" stroke="#1e1e1e" stroke-width="0.18">δ=0.9%</text><path d="M476.3,240.1h4.2" stroke="#1e1e1e" stroke-width="0.8"/>
<path d="M348.6,257.7H368.6" stroke="#ff1010" stroke-width="1.8"/>
<text x="372.0" y="260.9" font-size="9.1" text-anchor="start" fill="#1e1e1e" stroke="#1e1e1e" stroke-width="0.18">This work</text>
<text x="476.0" y="261.1" font-size="9.1" fill="#1e1e1e" stroke="#1e1e1e" stroke-width="0.18">δ=1.2%</text><path d="M476.3,252.8h4.2" stroke="#1e1e1e" stroke-width="0.8"/>
<path d="M348.6,269.9H368.6" stroke="#30ee30" stroke-width="1.8" stroke-dasharray="6 3 1.3 3"/>
<text x="372.0" y="273.1" font-size="9.1" text-anchor="start" fill="#1e1e1e" stroke="#1e1e1e" stroke-width="0.18">Alexander</text>
<text x="476.0" y="273.3" font-size="9.1" fill="#1e1e1e" stroke="#1e1e1e" stroke-width="0.18">δ=2.2%</text><path d="M476.3,265.0h4.2" stroke="#1e1e1e" stroke-width="0.8"/>
<path d="M348.6,281.9H368.6" stroke="#8a20f0" stroke-width="1.8" stroke-dasharray="6 3 1.3 3"/>
<text x="372.0" y="285.1" font-size="9.1" text-anchor="start" fill="#1e1e1e" stroke="#1e1e1e" stroke-width="0.18">Anssari-Benam</text>
<text x="476.0" y="285.3" font-size="9.1" fill="#1e1e1e" stroke="#1e1e1e" stroke-width="0.18">δ=2.6%</text><path d="M476.3,277.0h4.2" stroke="#1e1e1e" stroke-width="0.8"/>
<path d="M348.6,294.1H368.6" stroke="#108888" stroke-width="1.8" stroke-dasharray="6 3 1.3 3"/>
<text x="372.0" y="297.3" font-size="9.1" text-anchor="start" fill="#1e1e1e" stroke="#1e1e1e" stroke-width="0.18">Modified  Anssari-Benam</text>
<text x="476.0" y="297.5" font-size="9.1" fill="#1e1e1e" stroke="#1e1e1e" stroke-width="0.18">δ=2.6%</text><path d="M476.3,289.2h4.2" stroke="#1e1e1e" stroke-width="0.8"/>
<text x="433.0" y="433.8" font-size="11.5" text-anchor="middle" fill="#1e1e1e" stroke="#1e1e1e" stroke-width="0.3">Stretch</text>
<text transform="translate(301.4,319) rotate(-90)" font-size="11.5" text-anchor="middle" fill="#1e1e1e" stroke="#1e1e1e" stroke-width="0.18">Relative error (×100%)</text>
<text x="280.3" y="242.7" font-size="19" font-weight="bold" fill="#000" stroke="#000" stroke-width="0.18">d</text>
<rect x="37.3" y="10.5" width="222.3" height="179.0" fill="none" stroke="#000" stroke-width="1.3"/>
<path d="M37.3,189.5v-4M37.3,10.5v4M74.3,189.5v-4M74.3,10.5v4M111.4,189.5v-4M111.4,10.5v4M148.4,189.5v-4M148.4,10.5v4M185.5,189.5v-4M185.5,10.5v4M222.6,189.5v-4M222.6,10.5v4M259.6,189.5v-4M259.6,10.5v4M55.8,189.5v-2.2M55.8,10.5v2.2M92.9,189.5v-2.2M92.9,10.5v2.2M129.9,189.5v-2.2M129.9,10.5v2.2M167.0,189.5v-2.2M167.0,10.5v2.2M204.0,189.5v-2.2M204.0,10.5v2.2M241.1,189.5v-2.2M241.1,10.5v2.2M37.3,189.5h4M259.6,189.5h-4M37.3,153.7h4M259.6,153.7h-4M37.3,117.9h4M259.6,117.9h-4M37.3,82.1h4M259.6,82.1h-4M37.3,46.3h4M259.6,46.3h-4M37.3,10.5h4M259.6,10.5h-4M37.3,171.6h2.2M259.6,171.6h-2.2M37.3,135.8h2.2M259.6,135.8h-2.2M37.3,100.0h2.2M259.6,100.0h-2.2M37.3,64.2h2.2M259.6,64.2h-2.2M37.3,28.4h2.2M259.6,28.4h-2.2" stroke="#000" stroke-width="1.1" fill="none"/>
<text x="37.3" y="200.1" font-size="10" text-anchor="middle" fill="#1e1e1e" stroke="#1e1e1e" stroke-width="0.18">1.0</text>
<text x="74.3" y="200.1" font-size="10" text-anchor="middle" fill="#1e1e1e" stroke="#1e1e1e" stroke-width="0.18">1.5</text>
<text x="111.4" y="200.1" font-size="10" text-anchor="middle" fill="#1e1e1e" stroke="#1e1e1e" stroke-width="0.18">2.0</text>
<text x="148.4" y="200.1" font-size="10" text-anchor="middle" fill="#1e1e1e" stroke="#1e1e1e" stroke-width="0.18">2.5</text>
<text x="185.5" y="200.1" font-size="10" text-anchor="middle" fill="#1e1e1e" stroke="#1e1e1e" stroke-width="0.18">3.0</text>
<text x="222.6" y="200.1" font-size="10" text-anchor="middle" fill="#1e1e1e" stroke="#1e1e1e" stroke-width="0.18">3.5</text>
<text x="259.6" y="200.1" font-size="10" text-anchor="middle" fill="#1e1e1e" stroke="#1e1e1e" stroke-width="0.18">4.0</text>
<text x="34.5" y="192.9" font-size="10" text-anchor="end" fill="#1e1e1e" stroke="#1e1e1e" stroke-width="0.18">0</text>
<text x="34.5" y="157.1" font-size="10" text-anchor="end" fill="#1e1e1e" stroke="#1e1e1e" stroke-width="0.18">1</text>
<text x="34.5" y="121.3" font-size="10" text-anchor="end" fill="#1e1e1e" stroke="#1e1e1e" stroke-width="0.18">2</text>
<text x="34.5" y="85.5" font-size="10" text-anchor="end" fill="#1e1e1e" stroke="#1e1e1e" stroke-width="0.18">3</text>
<text x="34.5" y="49.7" font-size="10" text-anchor="end" fill="#1e1e1e" stroke="#1e1e1e" stroke-width="0.18">4</text>
<text x="34.5" y="13.9" font-size="10" text-anchor="end" fill="#1e1e1e" stroke="#1e1e1e" stroke-width="0.18">5</text>
<rect x="324.6" y="10.5" width="216.9" height="174.5" fill="none" stroke="#000" stroke-width="1.3"/>
<path d="M324.6,185.0v-4M324.6,10.5v4M363.3,185.0v-4M363.3,10.5v4M402.1,185.0v-4M402.1,10.5v4M440.8,185.0v-4M440.8,10.5v4M479.5,185.0v-4M479.5,10.5v4M518.3,185.0v-4M518.3,10.5v4M344.0,185.0v-2.2M344.0,10.5v2.2M382.7,185.0v-2.2M382.7,10.5v2.2M421.4,185.0v-2.2M421.4,10.5v2.2M460.2,185.0v-2.2M460.2,10.5v2.2M498.9,185.0v-2.2M498.9,10.5v2.2M537.6,185.0v-2.2M537.6,10.5v2.2M324.6,185.0h4M541.5,185.0h-4M324.6,141.4h4M541.5,141.4h-4M324.6,97.8h4M541.5,97.8h-4M324.6,54.1h4M541.5,54.1h-4M324.6,10.5h4M541.5,10.5h-4M324.6,163.2h2.2M541.5,163.2h-2.2M324.6,119.6h2.2M541.5,119.6h-2.2M324.6,75.9h2.2M541.5,75.9h-2.2M324.6,32.3h2.2M541.5,32.3h-2.2" stroke="#000" stroke-width="1.1" fill="none"/>
<text x="324.6" y="195.6" font-size="10" text-anchor="middle" fill="#1e1e1e" stroke="#1e1e1e" stroke-width="0.18">1.0</text>
<text x="363.3" y="195.6" font-size="10" text-anchor="middle" fill="#1e1e1e" stroke="#1e1e1e" stroke-width="0.18">1.5</text>
<text x="402.1" y="195.6" font-size="10" text-anchor="middle" fill="#1e1e1e" stroke="#1e1e1e" stroke-width="0.18">2.0</text>
<text x="440.8" y="195.6" font-size="10" text-anchor="middle" fill="#1e1e1e" stroke="#1e1e1e" stroke-width="0.18">2.5</text>
<text x="479.5" y="195.6" font-size="10" text-anchor="middle" fill="#1e1e1e" stroke="#1e1e1e" stroke-width="0.18">3.0</text>
<text x="518.3" y="195.6" font-size="10" text-anchor="middle" fill="#1e1e1e" stroke="#1e1e1e" stroke-width="0.18">3.5</text>
<text x="321.8" y="188.4" font-size="10" text-anchor="end" fill="#1e1e1e" stroke="#1e1e1e" stroke-width="0.18">0.00</text>
<text x="321.8" y="144.8" font-size="10" text-anchor="end" fill="#1e1e1e" stroke="#1e1e1e" stroke-width="0.18">0.03</text>
<text x="321.8" y="101.2" font-size="10" text-anchor="end" fill="#1e1e1e" stroke="#1e1e1e" stroke-width="0.18">0.06</text>
<text x="321.8" y="57.5" font-size="10" text-anchor="end" fill="#1e1e1e" stroke="#1e1e1e" stroke-width="0.18">0.09</text>
<text x="321.8" y="13.9" font-size="10" text-anchor="end" fill="#1e1e1e" stroke="#1e1e1e" stroke-width="0.18">0.12</text>
<rect x="49.3" y="231.4" width="216.7" height="175.1" fill="none" stroke="#000" stroke-width="1.3"/>
<path d="M49.3,406.5v-4M49.3,231.4v4M98.5,406.5v-4M98.5,231.4v4M147.8,406.5v-4M147.8,231.4v4M197.0,406.5v-4M197.0,231.4v4M246.3,406.5v-4M246.3,231.4v4M73.9,406.5v-2.2M73.9,231.4v2.2M123.2,406.5v-2.2M123.2,231.4v2.2M172.4,406.5v-2.2M172.4,231.4v2.2M221.7,406.5v-2.2M221.7,231.4v2.2M49.3,406.5h4M266.0,406.5h-4M49.3,371.5h4M266.0,371.5h-4M49.3,336.5h4M266.0,336.5h-4M49.3,301.4h4M266.0,301.4h-4M49.3,266.4h4M266.0,266.4h-4M49.3,231.4h4M266.0,231.4h-4M49.3,389.0h2.2M266.0,389.0h-2.2M49.3,354.0h2.2M266.0,354.0h-2.2M49.3,318.9h2.2M266.0,318.9h-2.2M49.3,283.9h2.2M266.0,283.9h-2.2M49.3,248.9h2.2M266.0,248.9h-2.2" stroke="#000" stroke-width="1.1" fill="none"/>
<text x="49.3" y="417.1" font-size="10" text-anchor="middle" fill="#1e1e1e" stroke="#1e1e1e" stroke-width="0.18">1.0</text>
<text x="98.5" y="417.1" font-size="10" text-anchor="middle" fill="#1e1e1e" stroke="#1e1e1e" stroke-width="0.18">1.5</text>
<text x="147.8" y="417.1" font-size="10" text-anchor="middle" fill="#1e1e1e" stroke="#1e1e1e" stroke-width="0.18">2.0</text>
<text x="197.0" y="417.1" font-size="10" text-anchor="middle" fill="#1e1e1e" stroke="#1e1e1e" stroke-width="0.18">2.5</text>
<text x="246.3" y="417.1" font-size="10" text-anchor="middle" fill="#1e1e1e" stroke="#1e1e1e" stroke-width="0.18">3.0</text>
<text x="46.5" y="409.9" font-size="10" text-anchor="end" fill="#1e1e1e" stroke="#1e1e1e" stroke-width="0.18">0.00</text>
<text x="46.5" y="374.9" font-size="10" text-anchor="end" fill="#1e1e1e" stroke="#1e1e1e" stroke-width="0.18">0.03</text>
<text x="46.5" y="339.9" font-size="10" text-anchor="end" fill="#1e1e1e" stroke="#1e1e1e" stroke-width="0.18">0.06</text>
<text x="46.5" y="304.8" font-size="10" text-anchor="end" fill="#1e1e1e" stroke="#1e1e1e" stroke-width="0.18">0.09</text>
<text x="46.5" y="269.8" font-size="10" text-anchor="end" fill="#1e1e1e" stroke="#1e1e1e" stroke-width="0.18">0.12</text>
<text x="46.5" y="234.8" font-size="10" text-anchor="end" fill="#1e1e1e" stroke="#1e1e1e" stroke-width="0.18">0.15</text>
<rect x="324.6" y="231.4" width="216.9" height="175.1" fill="none" stroke="#000" stroke-width="1.3"/>
<path d="M324.6,406.5v-4M324.6,231.4v4M363.3,406.5v-4M363.3,231.4v4M402.1,406.5v-4M402.1,231.4v4M440.8,406.5v-4M440.8,231.4v4M479.5,406.5v-4M479.5,231.4v4M518.3,406.5v-4M518.3,231.4v4M344.0,406.5v-2.2M344.0,231.4v2.2M382.7,406.5v-2.2M382.7,231.4v2.2M421.4,406.5v-2.2M421.4,231.4v2.2M460.2,406.5v-2.2M460.2,231.4v2.2M498.9,406.5v-2.2M498.9,231.4v2.2M537.6,406.5v-2.2M537.6,231.4v2.2M324.6,406.5h4M541.5,406.5h-4M324.6,348.1h4M541.5,348.1h-4M324.6,289.8h4M541.5,289.8h-4M324.6,231.4h4M541.5,231.4h-4M324.6,377.3h2.2M541.5,377.3h-2.2M324.6,318.9h2.2M541.5,318.9h-2.2M324.6,260.6h2.2M541.5,260.6h-2.2" stroke="#000" stroke-width="1.1" fill="none"/>
<text x="324.6" y="417.1" font-size="10" text-anchor="middle" fill="#1e1e1e" stroke="#1e1e1e" stroke-width="0.18">1.0</text>
<text x="363.3" y="417.1" font-size="10" text-anchor="middle" fill="#1e1e1e" stroke="#1e1e1e" stroke-width="0.18">1.5</text>
<text x="402.1" y="417.1" font-size="10" text-anchor="middle" fill="#1e1e1e" stroke="#1e1e1e" stroke-width="0.18">2.0</text>
<text x="440.8" y="417.1" font-size="10" text-anchor="middle" fill="#1e1e1e" stroke="#1e1e1e" stroke-width="0.18">2.5</text>
<text x="479.5" y="417.1" font-size="10" text-anchor="middle" fill="#1e1e1e" stroke="#1e1e1e" stroke-width="0.18">3.0</text>
<text x="518.3" y="417.1" font-size="10" text-anchor="middle" fill="#1e1e1e" stroke="#1e1e1e" stroke-width="0.18">3.5</text>
<text x="321.8" y="409.9" font-size="10" text-anchor="end" fill="#1e1e1e" stroke="#1e1e1e" stroke-width="0.18">0.00</text>
<text x="321.8" y="351.5" font-size="10" text-anchor="end" fill="#1e1e1e" stroke="#1e1e1e" stroke-width="0.18">0.03</text>
<text x="321.8" y="293.2" font-size="10" text-anchor="end" fill="#1e1e1e" stroke="#1e1e1e" stroke-width="0.18">0.06</text>
<text x="321.8" y="234.8" font-size="10" text-anchor="end" fill="#1e1e1e" stroke="#1e1e1e" stroke-width="0.18">0.09</text>
</svg>
</body></html>
